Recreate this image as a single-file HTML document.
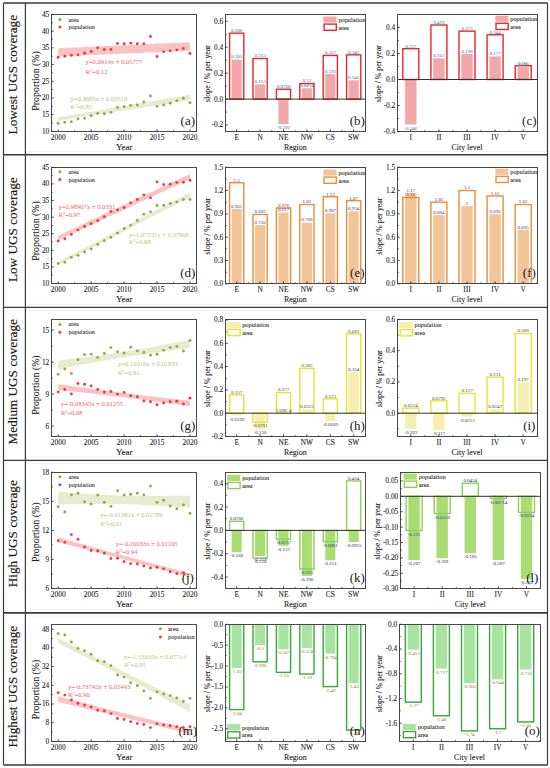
<!DOCTYPE html>
<html><head><meta charset="utf-8"><style>
html,body{margin:0;padding:0;background:#fff;}
body{width:550px;height:768px;overflow:hidden;}
svg{display:block;font-family:'Liberation Serif', serif;}
</style></head><body>
<svg width="550" height="768" viewBox="0 0 550 768">
<rect x="0" y="0" width="550" height="768" fill="#ffffff"/>
<line x1="26" y1="5.5" x2="547" y2="5.5" stroke="#f1f1f1" stroke-width="0.8"/>
<line x1="26" y1="151.5" x2="547" y2="151.5" stroke="#f1f1f1" stroke-width="0.8"/>
<line x1="26" y1="158" x2="547" y2="158" stroke="#f1f1f1" stroke-width="0.8"/>
<line x1="26" y1="304.3" x2="547" y2="304.3" stroke="#f1f1f1" stroke-width="0.8"/>
<line x1="26" y1="310.5" x2="547" y2="310.5" stroke="#f1f1f1" stroke-width="0.8"/>
<line x1="26" y1="457.2" x2="547" y2="457.2" stroke="#f1f1f1" stroke-width="0.8"/>
<line x1="26" y1="463.5" x2="547" y2="463.5" stroke="#f1f1f1" stroke-width="0.8"/>
<line x1="26" y1="609.8" x2="547" y2="609.8" stroke="#f1f1f1" stroke-width="0.8"/>
<line x1="26" y1="616" x2="547" y2="616" stroke="#f1f1f1" stroke-width="0.8"/>
<line x1="26" y1="762" x2="547" y2="762" stroke="#f1f1f1" stroke-width="0.8"/>
<line x1="3.5" y1="3" x2="547.5" y2="3" stroke="#3a3a3a" stroke-width="1.5"/>
<line x1="3.5" y1="765" x2="547.5" y2="765" stroke="#3a3a3a" stroke-width="1.5"/>
<line x1="3.5" y1="3" x2="3.5" y2="765" stroke="#3a3a3a" stroke-width="1.2"/>
<line x1="547.5" y1="3" x2="547.5" y2="765" stroke="#3a3a3a" stroke-width="1.2"/>
<line x1="25.4" y1="3" x2="25.4" y2="765" stroke="#3a3a3a" stroke-width="1.2"/>
<line x1="3.5" y1="154.8" x2="547.5" y2="154.8" stroke="#3a3a3a" stroke-width="1.5"/>
<line x1="3.5" y1="307.4" x2="547.5" y2="307.4" stroke="#3a3a3a" stroke-width="1.3"/>
<line x1="3.5" y1="460.4" x2="547.5" y2="460.4" stroke="#3a3a3a" stroke-width="1.3"/>
<line x1="3.5" y1="612.9" x2="547.5" y2="612.9" stroke="#3a3a3a" stroke-width="1.7"/>
<text x="12.6" y="79.06" font-size="13.2" text-anchor="middle" fill="#1a1a1a" stroke="#1a1a1a" stroke-width="0.17" transform="rotate(-90 12.6 74.7)">Lowest UGS coverage</text>
<text x="12.6" y="234.06" font-size="13.2" text-anchor="middle" fill="#1a1a1a" stroke="#1a1a1a" stroke-width="0.17" transform="rotate(-90 12.6 229.7)">Low UGS coverage</text>
<text x="12.6" y="386.16" font-size="13.2" text-anchor="middle" fill="#1a1a1a" stroke="#1a1a1a" stroke-width="0.17" transform="rotate(-90 12.6 381.8)">Medium UGS coverage</text>
<text x="12.6" y="538.06" font-size="13.2" text-anchor="middle" fill="#1a1a1a" stroke="#1a1a1a" stroke-width="0.17" transform="rotate(-90 12.6 533.7)">High UGS coverage</text>
<text x="12.6" y="691.06" font-size="13.2" text-anchor="middle" fill="#1a1a1a" stroke="#1a1a1a" stroke-width="0.17" transform="rotate(-90 12.6 686.7)">Highest UGS coverage</text>
<path d="M58.2,48.3 L61.5,48.15 L64.79,47.99 L68.09,47.84 L71.38,47.69 L74.68,47.54 L77.97,47.38 L81.27,47.23 L84.56,47.08 L87.86,46.93 L91.15,46.78 L94.44,46.62 L97.74,46.47 L101.03,46.32 L104.33,46.17 L107.62,46.01 L110.92,45.86 L114.22,45.71 L117.51,45.56 L120.81,45.4 L124.1,45.25 L127.39,45.1 L130.69,44.95 L133.99,44.79 L137.28,44.64 L140.57,44.49 L143.87,44.34 L147.17,44.18 L150.46,44.03 L153.75,43.88 L157.05,43.73 L160.34,43.57 L163.64,43.42 L166.94,43.27 L170.23,43.12 L173.53,42.96 L176.82,42.81 L180.12,42.66 L183.41,42.51 L186.7,42.35 L190,42.2 L190,50.7 L186.7,50.84 L183.41,50.99 L180.12,51.14 L176.82,51.28 L173.53,51.43 L170.23,51.57 L166.94,51.72 L163.64,51.86 L160.34,52.01 L157.05,52.15 L153.75,52.3 L150.46,52.44 L147.17,52.59 L143.87,52.73 L140.57,52.88 L137.28,53.02 L133.99,53.16 L130.69,53.31 L127.39,53.45 L124.1,53.6 L120.81,53.75 L117.51,53.89 L114.22,54.04 L110.92,54.18 L107.62,54.33 L104.33,54.47 L101.03,54.62 L97.74,54.76 L94.44,54.91 L91.15,55.05 L87.86,55.2 L84.56,55.34 L81.27,55.48 L77.97,55.63 L74.68,55.77 L71.38,55.92 L68.09,56.06 L64.79,56.21 L61.5,56.35 L58.2,56.5Z" fill="#fabdbd" opacity="0.9"/>
<path d="M58.2,117.4 L61.5,116.83 L64.79,116.26 L68.09,115.69 L71.38,115.12 L74.68,114.55 L77.97,113.98 L81.27,113.41 L84.56,112.84 L87.86,112.27 L91.15,111.7 L94.44,111.13 L97.74,110.56 L101.03,109.99 L104.33,109.42 L107.62,108.85 L110.92,108.28 L114.22,107.71 L117.51,107.14 L120.81,106.57 L124.1,106 L127.39,105.43 L130.69,104.86 L133.99,104.29 L137.28,103.72 L140.57,103.15 L143.87,102.58 L147.17,102.01 L150.46,101.44 L153.75,100.87 L157.05,100.3 L160.34,99.73 L163.64,99.16 L166.94,98.59 L170.23,98.02 L173.53,97.45 L176.82,96.88 L180.12,96.31 L183.41,95.74 L186.7,95.17 L190,94.6 L190,100.2 L186.7,100.72 L183.41,101.23 L180.12,101.75 L176.82,102.26 L173.53,102.78 L170.23,103.29 L166.94,103.81 L163.64,104.32 L160.34,104.83 L157.05,105.35 L153.75,105.87 L150.46,106.38 L147.17,106.89 L143.87,107.41 L140.57,107.92 L137.28,108.44 L133.99,108.95 L130.69,109.47 L127.39,109.98 L124.1,110.5 L120.81,111.02 L117.51,111.53 L114.22,112.05 L110.92,112.56 L107.62,113.08 L104.33,113.59 L101.03,114.11 L97.74,114.62 L94.44,115.13 L91.15,115.65 L87.86,116.17 L84.56,116.68 L81.27,117.19 L77.97,117.71 L74.68,118.22 L71.38,118.74 L68.09,119.25 L64.79,119.77 L61.5,120.28 L58.2,120.8Z" fill="#e2eacb" opacity="0.9"/>
<circle cx="58.2" cy="123.21" r="1.45" fill="#90aa3c"/>
<circle cx="64.79" cy="122.37" r="1.45" fill="#90aa3c"/>
<circle cx="71.38" cy="121.71" r="1.45" fill="#90aa3c"/>
<circle cx="77.97" cy="119.03" r="1.45" fill="#90aa3c"/>
<circle cx="84.56" cy="118.36" r="1.45" fill="#90aa3c"/>
<circle cx="91.15" cy="115.69" r="1.45" fill="#90aa3c"/>
<circle cx="97.74" cy="113.35" r="1.45" fill="#90aa3c"/>
<circle cx="104.33" cy="113.68" r="1.45" fill="#90aa3c"/>
<circle cx="110.92" cy="112.35" r="1.45" fill="#90aa3c"/>
<circle cx="117.51" cy="107.33" r="1.45" fill="#90aa3c"/>
<circle cx="124.1" cy="106.66" r="1.45" fill="#90aa3c"/>
<circle cx="130.69" cy="105.33" r="1.45" fill="#90aa3c"/>
<circle cx="137.28" cy="104.99" r="1.45" fill="#90aa3c"/>
<circle cx="143.87" cy="101.98" r="1.45" fill="#90aa3c"/>
<circle cx="150.46" cy="95.97" r="1.45" fill="#90aa3c"/>
<circle cx="157.05" cy="106.33" r="1.45" fill="#90aa3c"/>
<circle cx="163.64" cy="104.99" r="1.45" fill="#90aa3c"/>
<circle cx="170.23" cy="103.32" r="1.45" fill="#90aa3c"/>
<circle cx="176.82" cy="100.65" r="1.45" fill="#90aa3c"/>
<circle cx="183.41" cy="98.31" r="1.45" fill="#90aa3c"/>
<circle cx="190" cy="102.65" r="1.45" fill="#90aa3c"/>
<circle cx="58.2" cy="57.19" r="1.45" fill="#f2393b"/>
<circle cx="64.79" cy="56.19" r="1.45" fill="#f2393b"/>
<circle cx="71.38" cy="55.18" r="1.45" fill="#f2393b"/>
<circle cx="77.97" cy="54.85" r="1.45" fill="#f2393b"/>
<circle cx="84.56" cy="53.18" r="1.45" fill="#f2393b"/>
<circle cx="91.15" cy="51.51" r="1.45" fill="#f2393b"/>
<circle cx="97.74" cy="47.83" r="1.45" fill="#f2393b"/>
<circle cx="104.33" cy="49.5" r="1.45" fill="#f2393b"/>
<circle cx="110.92" cy="49.5" r="1.45" fill="#f2393b"/>
<circle cx="117.51" cy="43.48" r="1.45" fill="#f2393b"/>
<circle cx="124.1" cy="43.82" r="1.45" fill="#f2393b"/>
<circle cx="130.69" cy="43.15" r="1.45" fill="#f2393b"/>
<circle cx="137.28" cy="43.82" r="1.45" fill="#f2393b"/>
<circle cx="143.87" cy="43.82" r="1.45" fill="#f2393b"/>
<circle cx="150.46" cy="36.46" r="1.45" fill="#f2393b"/>
<circle cx="157.05" cy="56.52" r="1.45" fill="#f2393b"/>
<circle cx="163.64" cy="51.84" r="1.45" fill="#f2393b"/>
<circle cx="170.23" cy="50.84" r="1.45" fill="#f2393b"/>
<circle cx="176.82" cy="49.83" r="1.45" fill="#f2393b"/>
<circle cx="183.41" cy="48.5" r="1.45" fill="#f2393b"/>
<circle cx="190" cy="53.51" r="1.45" fill="#f2393b"/>
<text x="85.6" y="64.38" font-size="6.6" text-anchor="start" fill="#f27d7d" stroke="#f27d7d" stroke-width="0.08">y=0.0914x ± 0.05777</text>
<text x="85.6" y="73.88" font-size="6.6" text-anchor="start" fill="#f27d7d" stroke="#f27d7d" stroke-width="0.08">R<tspan dy="-2" font-size="4.5">2</tspan><tspan dy="2">=0.12</tspan></text>
<text x="70.5" y="101.28" font-size="6.6" text-anchor="start" fill="#c6d08c" stroke="#c6d08c" stroke-width="0.08">y=0.3683x ± 0.03519</text>
<text x="70.5" y="108.98" font-size="6.6" text-anchor="start" fill="#c6d08c" stroke="#c6d08c" stroke-width="0.08">R<tspan dy="-2" font-size="4.5">2</tspan><tspan dy="2">=0.85</tspan></text>
<circle cx="59.9" cy="19.6" r="1.5" fill="#90aa3c"/>
<circle cx="59.9" cy="27" r="1.5" fill="#f2393b"/>
<text x="68.4" y="21.65" font-size="6.2" text-anchor="start" fill="#333" stroke="#333" stroke-width="0.08">area</text>
<text x="68.4" y="29.05" font-size="6.2" text-anchor="start" fill="#333" stroke="#333" stroke-width="0.08">population</text>
<rect x="51.5" y="14.5" width="145" height="117" fill="none" stroke="#484848" stroke-width="1.0"/>
<line x1="51.5" y1="131.4" x2="53.7" y2="131.4" stroke="#333333" stroke-width="0.9"/>
<text x="49.3" y="133.84" font-size="7.4" text-anchor="end" fill="#222" stroke="#222" stroke-width="0.09">10</text>
<line x1="51.5" y1="114.69" x2="53.7" y2="114.69" stroke="#333333" stroke-width="0.9"/>
<text x="49.3" y="117.13" font-size="7.4" text-anchor="end" fill="#222" stroke="#222" stroke-width="0.09">15</text>
<line x1="51.5" y1="97.97" x2="53.7" y2="97.97" stroke="#333333" stroke-width="0.9"/>
<text x="49.3" y="100.41" font-size="7.4" text-anchor="end" fill="#222" stroke="#222" stroke-width="0.09">20</text>
<line x1="51.5" y1="81.26" x2="53.7" y2="81.26" stroke="#333333" stroke-width="0.9"/>
<text x="49.3" y="83.7" font-size="7.4" text-anchor="end" fill="#222" stroke="#222" stroke-width="0.09">25</text>
<line x1="51.5" y1="64.54" x2="53.7" y2="64.54" stroke="#333333" stroke-width="0.9"/>
<text x="49.3" y="66.98" font-size="7.4" text-anchor="end" fill="#222" stroke="#222" stroke-width="0.09">30</text>
<line x1="51.5" y1="47.83" x2="53.7" y2="47.83" stroke="#333333" stroke-width="0.9"/>
<text x="49.3" y="50.27" font-size="7.4" text-anchor="end" fill="#222" stroke="#222" stroke-width="0.09">35</text>
<line x1="51.5" y1="31.11" x2="53.7" y2="31.11" stroke="#333333" stroke-width="0.9"/>
<text x="49.3" y="33.56" font-size="7.4" text-anchor="end" fill="#222" stroke="#222" stroke-width="0.09">40</text>
<line x1="51.5" y1="14.4" x2="53.7" y2="14.4" stroke="#333333" stroke-width="0.9"/>
<text x="49.3" y="16.84" font-size="7.4" text-anchor="end" fill="#222" stroke="#222" stroke-width="0.09">45</text>
<line x1="51.5" y1="123.04" x2="52.8" y2="123.04" stroke="#333333" stroke-width="0.8"/>
<line x1="51.5" y1="106.33" x2="52.8" y2="106.33" stroke="#333333" stroke-width="0.8"/>
<line x1="51.5" y1="89.61" x2="52.8" y2="89.61" stroke="#333333" stroke-width="0.8"/>
<line x1="51.5" y1="72.9" x2="52.8" y2="72.9" stroke="#333333" stroke-width="0.8"/>
<line x1="51.5" y1="56.19" x2="52.8" y2="56.19" stroke="#333333" stroke-width="0.8"/>
<line x1="51.5" y1="39.47" x2="52.8" y2="39.47" stroke="#333333" stroke-width="0.8"/>
<line x1="51.5" y1="22.76" x2="52.8" y2="22.76" stroke="#333333" stroke-width="0.8"/>
<line x1="58.2" y1="131.5" x2="58.2" y2="129.3" stroke="#333333" stroke-width="0.9"/>
<text x="58.2" y="139.74" font-size="7.4" text-anchor="middle" fill="#222" stroke="#222" stroke-width="0.09">2000</text>
<line x1="91.15" y1="131.5" x2="91.15" y2="129.3" stroke="#333333" stroke-width="0.9"/>
<text x="91.15" y="139.74" font-size="7.4" text-anchor="middle" fill="#222" stroke="#222" stroke-width="0.09">2005</text>
<line x1="124.1" y1="131.5" x2="124.1" y2="129.3" stroke="#333333" stroke-width="0.9"/>
<text x="124.1" y="139.74" font-size="7.4" text-anchor="middle" fill="#222" stroke="#222" stroke-width="0.09">2010</text>
<line x1="157.05" y1="131.5" x2="157.05" y2="129.3" stroke="#333333" stroke-width="0.9"/>
<text x="157.05" y="139.74" font-size="7.4" text-anchor="middle" fill="#222" stroke="#222" stroke-width="0.09">2015</text>
<line x1="190" y1="131.5" x2="190" y2="129.3" stroke="#333333" stroke-width="0.9"/>
<text x="190" y="139.74" font-size="7.4" text-anchor="middle" fill="#222" stroke="#222" stroke-width="0.09">2020</text>
<line x1="74.68" y1="131.5" x2="74.68" y2="130.2" stroke="#333333" stroke-width="0.8"/>
<line x1="107.62" y1="131.5" x2="107.62" y2="130.2" stroke="#333333" stroke-width="0.8"/>
<line x1="140.57" y1="131.5" x2="140.57" y2="130.2" stroke="#333333" stroke-width="0.8"/>
<line x1="173.53" y1="131.5" x2="173.53" y2="130.2" stroke="#333333" stroke-width="0.8"/>
<text x="124.3" y="149.82" font-size="9" text-anchor="middle" fill="#222" stroke="#222" stroke-width="0.11">Year</text>
<text x="35.4" y="84.17" font-size="9.9" text-anchor="middle" fill="#222" stroke="#222" stroke-width="0.12" transform="rotate(-90 35.4 80.9)">Proportion (%)</text>
<text x="187.8" y="125.35" font-size="13.0" text-anchor="middle" fill="#1a1a1a">(a)</text>
<path d="M58.2,235.7 L61.5,234.16 L64.79,232.61 L68.09,231.06 L71.38,229.52 L74.68,227.97 L77.97,226.43 L81.27,224.89 L84.56,223.34 L87.86,221.79 L91.15,220.25 L94.44,218.71 L97.74,217.16 L101.03,215.61 L104.33,214.07 L107.62,212.53 L110.92,210.98 L114.22,209.44 L117.51,207.89 L120.81,206.34 L124.1,204.8 L127.39,203.25 L130.69,201.71 L133.99,200.16 L137.28,198.62 L140.57,197.07 L143.87,195.53 L147.17,193.99 L150.46,192.44 L153.75,190.89 L157.05,189.35 L160.34,187.81 L163.64,186.26 L166.94,184.71 L170.23,183.17 L173.53,181.62 L176.82,180.08 L180.12,178.54 L183.41,176.99 L186.7,175.44 L190,173.9 L190,179.1 L186.7,180.63 L183.41,182.16 L180.12,183.69 L176.82,185.22 L173.53,186.75 L170.23,188.28 L166.94,189.81 L163.64,191.34 L160.34,192.87 L157.05,194.4 L153.75,195.93 L150.46,197.46 L147.17,198.99 L143.87,200.52 L140.57,202.05 L137.28,203.58 L133.99,205.11 L130.69,206.64 L127.39,208.17 L124.1,209.7 L120.81,211.23 L117.51,212.76 L114.22,214.29 L110.92,215.82 L107.62,217.35 L104.33,218.88 L101.03,220.41 L97.74,221.94 L94.44,223.47 L91.15,225 L87.86,226.53 L84.56,228.06 L81.27,229.59 L77.97,231.12 L74.68,232.65 L71.38,234.18 L68.09,235.71 L64.79,237.24 L61.5,238.77 L58.2,240.3Z" fill="#fabdbd" opacity="0.9"/>
<path d="M58.2,261.8 L61.5,260.07 L64.79,258.33 L68.09,256.6 L71.38,254.87 L74.68,253.14 L77.97,251.4 L81.27,249.67 L84.56,247.94 L87.86,246.21 L91.15,244.47 L94.44,242.74 L97.74,241.01 L101.03,239.28 L104.33,237.54 L107.62,235.81 L110.92,234.08 L114.22,232.35 L117.51,230.61 L120.81,228.88 L124.1,227.15 L127.39,225.42 L130.69,223.69 L133.99,221.95 L137.28,220.22 L140.57,218.49 L143.87,216.75 L147.17,215.02 L150.46,213.29 L153.75,211.56 L157.05,209.83 L160.34,208.09 L163.64,206.36 L166.94,204.63 L170.23,202.9 L173.53,201.16 L176.82,199.43 L180.12,197.7 L183.41,195.96 L186.7,194.23 L190,192.5 L190,197.3 L186.7,198.99 L183.41,200.69 L180.12,202.38 L176.82,204.07 L173.53,205.76 L170.23,207.46 L166.94,209.15 L163.64,210.84 L160.34,212.53 L157.05,214.22 L153.75,215.92 L150.46,217.61 L147.17,219.3 L143.87,221 L140.57,222.69 L137.28,224.38 L133.99,226.07 L130.69,227.76 L127.39,229.46 L124.1,231.15 L120.81,232.84 L117.51,234.53 L114.22,236.23 L110.92,237.92 L107.62,239.61 L104.33,241.3 L101.03,243 L97.74,244.69 L94.44,246.38 L91.15,248.07 L87.86,249.77 L84.56,251.46 L81.27,253.15 L77.97,254.84 L74.68,256.54 L71.38,258.23 L68.09,259.92 L64.79,261.61 L61.5,263.31 L58.2,265Z" fill="#e2eacb" opacity="0.9"/>
<circle cx="58.2" cy="263.5" r="1.45" fill="#90aa3c"/>
<circle cx="64.79" cy="262.33" r="1.45" fill="#90aa3c"/>
<circle cx="71.38" cy="257.35" r="1.45" fill="#90aa3c"/>
<circle cx="77.97" cy="255.36" r="1.45" fill="#90aa3c"/>
<circle cx="84.56" cy="252.03" r="1.45" fill="#90aa3c"/>
<circle cx="91.15" cy="249.04" r="1.45" fill="#90aa3c"/>
<circle cx="97.74" cy="244.39" r="1.45" fill="#90aa3c"/>
<circle cx="104.33" cy="240.74" r="1.45" fill="#90aa3c"/>
<circle cx="110.92" cy="237.41" r="1.45" fill="#90aa3c"/>
<circle cx="117.51" cy="233.09" r="1.45" fill="#90aa3c"/>
<circle cx="124.1" cy="228.44" r="1.45" fill="#90aa3c"/>
<circle cx="130.69" cy="225.12" r="1.45" fill="#90aa3c"/>
<circle cx="137.28" cy="220.47" r="1.45" fill="#90aa3c"/>
<circle cx="143.87" cy="214.15" r="1.45" fill="#90aa3c"/>
<circle cx="150.46" cy="211.83" r="1.45" fill="#90aa3c"/>
<circle cx="157.05" cy="205.51" r="1.45" fill="#90aa3c"/>
<circle cx="163.64" cy="205.18" r="1.45" fill="#90aa3c"/>
<circle cx="170.23" cy="203.52" r="1.45" fill="#90aa3c"/>
<circle cx="176.82" cy="201.86" r="1.45" fill="#90aa3c"/>
<circle cx="183.41" cy="199.53" r="1.45" fill="#90aa3c"/>
<circle cx="190" cy="199.53" r="1.45" fill="#90aa3c"/>
<circle cx="58.2" cy="241.07" r="1.45" fill="#f2393b"/>
<circle cx="64.79" cy="238.74" r="1.45" fill="#f2393b"/>
<circle cx="71.38" cy="234.42" r="1.45" fill="#f2393b"/>
<circle cx="77.97" cy="230.1" r="1.45" fill="#f2393b"/>
<circle cx="84.56" cy="226.45" r="1.45" fill="#f2393b"/>
<circle cx="91.15" cy="223.79" r="1.45" fill="#f2393b"/>
<circle cx="97.74" cy="220.8" r="1.45" fill="#f2393b"/>
<circle cx="104.33" cy="216.81" r="1.45" fill="#f2393b"/>
<circle cx="110.92" cy="211.49" r="1.45" fill="#f2393b"/>
<circle cx="117.51" cy="209.83" r="1.45" fill="#f2393b"/>
<circle cx="124.1" cy="207.51" r="1.45" fill="#f2393b"/>
<circle cx="130.69" cy="202.85" r="1.45" fill="#f2393b"/>
<circle cx="137.28" cy="199.53" r="1.45" fill="#f2393b"/>
<circle cx="143.87" cy="194.88" r="1.45" fill="#f2393b"/>
<circle cx="150.46" cy="197.87" r="1.45" fill="#f2393b"/>
<circle cx="157.05" cy="181.92" r="1.45" fill="#f2393b"/>
<circle cx="163.64" cy="184.58" r="1.45" fill="#f2393b"/>
<circle cx="170.23" cy="184.25" r="1.45" fill="#f2393b"/>
<circle cx="176.82" cy="182.59" r="1.45" fill="#f2393b"/>
<circle cx="183.41" cy="182.25" r="1.45" fill="#f2393b"/>
<circle cx="190" cy="180.26" r="1.45" fill="#f2393b"/>
<text x="58.5" y="208.78" font-size="6.6" text-anchor="start" fill="#f27d7d" stroke="#f27d7d" stroke-width="0.08">y=0.96907x ± 0.0331</text>
<text x="58.5" y="216.88" font-size="6.6" text-anchor="start" fill="#f27d7d" stroke="#f27d7d" stroke-width="0.08">R<tspan dy="-2" font-size="4.5">2</tspan><tspan dy="2">=0.97</tspan></text>
<text x="128.8" y="236.68" font-size="6.6" text-anchor="start" fill="#c6d08c" stroke="#c6d08c" stroke-width="0.08">y=1.07231x ± 0.07908</text>
<text x="128.8" y="244.38" font-size="6.6" text-anchor="start" fill="#c6d08c" stroke="#c6d08c" stroke-width="0.08">R<tspan dy="-2" font-size="4.5">2</tspan><tspan dy="2">=0.98</tspan></text>
<circle cx="59.9" cy="171.7" r="1.5" fill="#90aa3c"/>
<circle cx="59.9" cy="179.5" r="1.5" fill="#f2393b"/>
<text x="68.4" y="173.75" font-size="6.2" text-anchor="start" fill="#333" stroke="#333" stroke-width="0.08">area</text>
<text x="68.4" y="181.55" font-size="6.2" text-anchor="start" fill="#333" stroke="#333" stroke-width="0.08">population</text>
<rect x="51.5" y="167.5" width="145" height="116" fill="none" stroke="#484848" stroke-width="1.0"/>
<line x1="51.5" y1="283.6" x2="53.7" y2="283.6" stroke="#333333" stroke-width="0.9"/>
<text x="49.3" y="286.04" font-size="7.4" text-anchor="end" fill="#222" stroke="#222" stroke-width="0.09">10</text>
<line x1="51.5" y1="266.99" x2="53.7" y2="266.99" stroke="#333333" stroke-width="0.9"/>
<text x="49.3" y="269.43" font-size="7.4" text-anchor="end" fill="#222" stroke="#222" stroke-width="0.09">15</text>
<line x1="51.5" y1="250.37" x2="53.7" y2="250.37" stroke="#333333" stroke-width="0.9"/>
<text x="49.3" y="252.81" font-size="7.4" text-anchor="end" fill="#222" stroke="#222" stroke-width="0.09">20</text>
<line x1="51.5" y1="233.76" x2="53.7" y2="233.76" stroke="#333333" stroke-width="0.9"/>
<text x="49.3" y="236.2" font-size="7.4" text-anchor="end" fill="#222" stroke="#222" stroke-width="0.09">25</text>
<line x1="51.5" y1="217.14" x2="53.7" y2="217.14" stroke="#333333" stroke-width="0.9"/>
<text x="49.3" y="219.58" font-size="7.4" text-anchor="end" fill="#222" stroke="#222" stroke-width="0.09">30</text>
<line x1="51.5" y1="200.53" x2="53.7" y2="200.53" stroke="#333333" stroke-width="0.9"/>
<text x="49.3" y="202.97" font-size="7.4" text-anchor="end" fill="#222" stroke="#222" stroke-width="0.09">35</text>
<line x1="51.5" y1="183.91" x2="53.7" y2="183.91" stroke="#333333" stroke-width="0.9"/>
<text x="49.3" y="186.36" font-size="7.4" text-anchor="end" fill="#222" stroke="#222" stroke-width="0.09">40</text>
<line x1="51.5" y1="167.3" x2="53.7" y2="167.3" stroke="#333333" stroke-width="0.9"/>
<text x="49.3" y="169.74" font-size="7.4" text-anchor="end" fill="#222" stroke="#222" stroke-width="0.09">45</text>
<line x1="51.5" y1="275.29" x2="52.8" y2="275.29" stroke="#333333" stroke-width="0.8"/>
<line x1="51.5" y1="258.68" x2="52.8" y2="258.68" stroke="#333333" stroke-width="0.8"/>
<line x1="51.5" y1="242.06" x2="52.8" y2="242.06" stroke="#333333" stroke-width="0.8"/>
<line x1="51.5" y1="225.45" x2="52.8" y2="225.45" stroke="#333333" stroke-width="0.8"/>
<line x1="51.5" y1="208.84" x2="52.8" y2="208.84" stroke="#333333" stroke-width="0.8"/>
<line x1="51.5" y1="192.22" x2="52.8" y2="192.22" stroke="#333333" stroke-width="0.8"/>
<line x1="51.5" y1="175.61" x2="52.8" y2="175.61" stroke="#333333" stroke-width="0.8"/>
<line x1="58.2" y1="283.5" x2="58.2" y2="281.3" stroke="#333333" stroke-width="0.9"/>
<text x="58.2" y="291.74" font-size="7.4" text-anchor="middle" fill="#222" stroke="#222" stroke-width="0.09">2000</text>
<line x1="91.15" y1="283.5" x2="91.15" y2="281.3" stroke="#333333" stroke-width="0.9"/>
<text x="91.15" y="291.74" font-size="7.4" text-anchor="middle" fill="#222" stroke="#222" stroke-width="0.09">2005</text>
<line x1="124.1" y1="283.5" x2="124.1" y2="281.3" stroke="#333333" stroke-width="0.9"/>
<text x="124.1" y="291.74" font-size="7.4" text-anchor="middle" fill="#222" stroke="#222" stroke-width="0.09">2010</text>
<line x1="157.05" y1="283.5" x2="157.05" y2="281.3" stroke="#333333" stroke-width="0.9"/>
<text x="157.05" y="291.74" font-size="7.4" text-anchor="middle" fill="#222" stroke="#222" stroke-width="0.09">2015</text>
<line x1="190" y1="283.5" x2="190" y2="281.3" stroke="#333333" stroke-width="0.9"/>
<text x="190" y="291.74" font-size="7.4" text-anchor="middle" fill="#222" stroke="#222" stroke-width="0.09">2020</text>
<line x1="74.68" y1="283.5" x2="74.68" y2="282.2" stroke="#333333" stroke-width="0.8"/>
<line x1="107.62" y1="283.5" x2="107.62" y2="282.2" stroke="#333333" stroke-width="0.8"/>
<line x1="140.57" y1="283.5" x2="140.57" y2="282.2" stroke="#333333" stroke-width="0.8"/>
<line x1="173.53" y1="283.5" x2="173.53" y2="282.2" stroke="#333333" stroke-width="0.8"/>
<text x="124.3" y="301.82" font-size="9" text-anchor="middle" fill="#222" stroke="#222" stroke-width="0.11">Year</text>
<text x="35.4" y="234.17" font-size="9.9" text-anchor="middle" fill="#222" stroke="#222" stroke-width="0.12" transform="rotate(-90 35.4 230.9)">Proportion (%)</text>
<text x="187.8" y="277.35" font-size="13.0" text-anchor="middle" fill="#1a1a1a">(d)</text>
<path d="M58.2,384.2 L61.5,384.66 L64.79,385.12 L68.09,385.58 L71.38,386.04 L74.68,386.5 L77.97,386.95 L81.27,387.41 L84.56,387.87 L87.86,388.32 L91.15,388.78 L94.44,389.23 L97.74,389.68 L101.03,390.13 L104.33,390.58 L107.62,391.02 L110.92,391.47 L114.22,391.9 L117.51,392.33 L120.81,392.76 L124.1,393.18 L127.39,393.59 L130.69,393.99 L133.99,394.39 L137.28,394.79 L140.57,395.18 L143.87,395.57 L147.17,395.95 L150.46,396.33 L153.75,396.71 L157.05,397.09 L160.34,397.47 L163.64,397.85 L166.94,398.22 L170.23,398.6 L173.53,398.98 L176.82,399.35 L180.12,399.73 L183.41,400.1 L186.7,400.48 L190,400.85 L190,406.15 L186.7,405.7 L183.41,405.25 L180.12,404.8 L176.82,404.35 L173.53,403.9 L170.23,403.45 L166.94,403 L163.64,402.55 L160.34,402.11 L157.05,401.66 L153.75,401.21 L150.46,400.77 L147.17,400.32 L143.87,399.88 L140.57,399.45 L137.28,399.01 L133.99,398.58 L130.69,398.16 L127.39,397.74 L124.1,397.32 L120.81,396.92 L117.51,396.52 L114.22,396.12 L110.92,395.73 L107.62,395.35 L104.33,394.97 L101.03,394.59 L97.74,394.22 L94.44,393.84 L91.15,393.47 L87.86,393.1 L84.56,392.73 L81.27,392.36 L77.97,392 L74.68,391.63 L71.38,391.26 L68.09,390.9 L64.79,390.53 L61.5,390.16 L58.2,389.8Z" fill="#fabdbd" opacity="0.9"/>
<path d="M58.2,360.65 L61.5,360.24 L64.79,359.83 L68.09,359.41 L71.38,359 L74.68,358.58 L77.97,358.16 L81.27,357.75 L84.56,357.33 L87.86,356.9 L91.15,356.48 L94.44,356.05 L97.74,355.61 L101.03,355.18 L104.33,354.73 L107.62,354.28 L110.92,353.83 L114.22,353.36 L117.51,352.87 L120.81,352.38 L124.1,351.86 L127.39,351.33 L130.69,350.79 L133.99,350.23 L137.28,349.66 L140.57,349.08 L143.87,348.49 L147.17,347.89 L150.46,347.29 L153.75,346.68 L157.05,346.07 L160.34,345.46 L163.64,344.85 L166.94,344.23 L170.23,343.61 L173.53,343 L176.82,342.38 L180.12,341.76 L183.41,341.14 L186.7,340.52 L190,339.9 L190,348.1 L186.7,348.53 L183.41,348.96 L180.12,349.39 L176.82,349.82 L173.53,350.25 L170.23,350.69 L166.94,351.12 L163.64,351.55 L160.34,351.99 L157.05,352.43 L153.75,352.87 L150.46,353.31 L147.17,353.76 L143.87,354.21 L140.57,354.67 L137.28,355.14 L133.99,355.62 L130.69,356.11 L127.39,356.62 L124.1,357.14 L120.81,357.67 L117.51,358.23 L114.22,358.79 L110.92,359.37 L107.62,359.97 L104.33,360.57 L101.03,361.17 L97.74,361.79 L94.44,362.4 L91.15,363.02 L87.86,363.65 L84.56,364.27 L81.27,364.9 L77.97,365.54 L74.68,366.17 L71.38,366.8 L68.09,367.44 L64.79,368.07 L61.5,368.71 L58.2,369.35Z" fill="#e2eacb" opacity="0.9"/>
<circle cx="58.2" cy="374.37" r="1.45" fill="#90aa3c"/>
<circle cx="64.79" cy="368.93" r="1.45" fill="#90aa3c"/>
<circle cx="71.38" cy="373.51" r="1.45" fill="#90aa3c"/>
<circle cx="77.97" cy="359.65" r="1.45" fill="#90aa3c"/>
<circle cx="84.56" cy="354.63" r="1.45" fill="#90aa3c"/>
<circle cx="91.15" cy="354.31" r="1.45" fill="#90aa3c"/>
<circle cx="97.74" cy="357.62" r="1.45" fill="#90aa3c"/>
<circle cx="104.33" cy="353.57" r="1.45" fill="#90aa3c"/>
<circle cx="110.92" cy="347.59" r="1.45" fill="#90aa3c"/>
<circle cx="117.51" cy="351.86" r="1.45" fill="#90aa3c"/>
<circle cx="124.1" cy="353.03" r="1.45" fill="#90aa3c"/>
<circle cx="130.69" cy="347.27" r="1.45" fill="#90aa3c"/>
<circle cx="137.28" cy="350.9" r="1.45" fill="#90aa3c"/>
<circle cx="143.87" cy="352.5" r="1.45" fill="#90aa3c"/>
<circle cx="150.46" cy="355.17" r="1.45" fill="#90aa3c"/>
<circle cx="157.05" cy="354.21" r="1.45" fill="#90aa3c"/>
<circle cx="163.64" cy="350.15" r="1.45" fill="#90aa3c"/>
<circle cx="170.23" cy="347.59" r="1.45" fill="#90aa3c"/>
<circle cx="176.82" cy="346.53" r="1.45" fill="#90aa3c"/>
<circle cx="183.41" cy="351.01" r="1.45" fill="#90aa3c"/>
<circle cx="190" cy="340.45" r="1.45" fill="#90aa3c"/>
<circle cx="58.2" cy="391.97" r="1.45" fill="#f2393b"/>
<circle cx="64.79" cy="389.51" r="1.45" fill="#f2393b"/>
<circle cx="71.38" cy="393.89" r="1.45" fill="#f2393b"/>
<circle cx="77.97" cy="383.43" r="1.45" fill="#f2393b"/>
<circle cx="84.56" cy="384.18" r="1.45" fill="#f2393b"/>
<circle cx="91.15" cy="385.89" r="1.45" fill="#f2393b"/>
<circle cx="97.74" cy="389.51" r="1.45" fill="#f2393b"/>
<circle cx="104.33" cy="391.97" r="1.45" fill="#f2393b"/>
<circle cx="110.92" cy="391.43" r="1.45" fill="#f2393b"/>
<circle cx="117.51" cy="394.1" r="1.45" fill="#f2393b"/>
<circle cx="124.1" cy="392.39" r="1.45" fill="#f2393b"/>
<circle cx="130.69" cy="395.7" r="1.45" fill="#f2393b"/>
<circle cx="137.28" cy="396.77" r="1.45" fill="#f2393b"/>
<circle cx="143.87" cy="400.93" r="1.45" fill="#f2393b"/>
<circle cx="150.46" cy="401.78" r="1.45" fill="#f2393b"/>
<circle cx="157.05" cy="404.77" r="1.45" fill="#f2393b"/>
<circle cx="163.64" cy="402.95" r="1.45" fill="#f2393b"/>
<circle cx="170.23" cy="401.78" r="1.45" fill="#f2393b"/>
<circle cx="176.82" cy="401.25" r="1.45" fill="#f2393b"/>
<circle cx="183.41" cy="403.91" r="1.45" fill="#f2393b"/>
<circle cx="190" cy="398.15" r="1.45" fill="#f2393b"/>
<text x="60.7" y="405.58" font-size="6.6" text-anchor="start" fill="#f27d7d" stroke="#f27d7d" stroke-width="0.08">y=-0.08345x ± 0.01255</text>
<text x="60.7" y="414.58" font-size="6.6" text-anchor="start" fill="#f27d7d" stroke="#f27d7d" stroke-width="0.08">R<tspan dy="-2" font-size="4.5">2</tspan><tspan dy="2">=0.68</tspan></text>
<text x="117.9" y="365.78" font-size="6.6" text-anchor="start" fill="#c6d08c" stroke="#c6d08c" stroke-width="0.08">y=0.10316x ± 0.01831</text>
<text x="117.9" y="375.28" font-size="6.6" text-anchor="start" fill="#c6d08c" stroke="#c6d08c" stroke-width="0.08">R<tspan dy="-2" font-size="4.5">2</tspan><tspan dy="2">=0.61</tspan></text>
<circle cx="59.9" cy="324.4" r="1.5" fill="#90aa3c"/>
<circle cx="59.9" cy="332.2" r="1.5" fill="#f2393b"/>
<text x="68.4" y="326.45" font-size="6.2" text-anchor="start" fill="#333" stroke="#333" stroke-width="0.08">area</text>
<text x="68.4" y="334.25" font-size="6.2" text-anchor="start" fill="#333" stroke="#333" stroke-width="0.08">population</text>
<rect x="51.5" y="319.5" width="145" height="117" fill="none" stroke="#484848" stroke-width="1.0"/>
<line x1="51.5" y1="426.1" x2="53.7" y2="426.1" stroke="#333333" stroke-width="0.9"/>
<text x="49.3" y="428.54" font-size="7.4" text-anchor="end" fill="#222" stroke="#222" stroke-width="0.09">6</text>
<line x1="51.5" y1="394.1" x2="53.7" y2="394.1" stroke="#333333" stroke-width="0.9"/>
<text x="49.3" y="396.54" font-size="7.4" text-anchor="end" fill="#222" stroke="#222" stroke-width="0.09">9</text>
<line x1="51.5" y1="362.1" x2="53.7" y2="362.1" stroke="#333333" stroke-width="0.9"/>
<text x="49.3" y="364.54" font-size="7.4" text-anchor="end" fill="#222" stroke="#222" stroke-width="0.09">12</text>
<line x1="51.5" y1="330.1" x2="53.7" y2="330.1" stroke="#333333" stroke-width="0.9"/>
<text x="49.3" y="332.54" font-size="7.4" text-anchor="end" fill="#222" stroke="#222" stroke-width="0.09">15</text>
<line x1="51.5" y1="410.1" x2="52.8" y2="410.1" stroke="#333333" stroke-width="0.8"/>
<line x1="51.5" y1="378.1" x2="52.8" y2="378.1" stroke="#333333" stroke-width="0.8"/>
<line x1="51.5" y1="346.1" x2="52.8" y2="346.1" stroke="#333333" stroke-width="0.8"/>
<line x1="58.2" y1="436.5" x2="58.2" y2="434.3" stroke="#333333" stroke-width="0.9"/>
<text x="58.2" y="444.74" font-size="7.4" text-anchor="middle" fill="#222" stroke="#222" stroke-width="0.09">2000</text>
<line x1="91.15" y1="436.5" x2="91.15" y2="434.3" stroke="#333333" stroke-width="0.9"/>
<text x="91.15" y="444.74" font-size="7.4" text-anchor="middle" fill="#222" stroke="#222" stroke-width="0.09">2005</text>
<line x1="124.1" y1="436.5" x2="124.1" y2="434.3" stroke="#333333" stroke-width="0.9"/>
<text x="124.1" y="444.74" font-size="7.4" text-anchor="middle" fill="#222" stroke="#222" stroke-width="0.09">2010</text>
<line x1="157.05" y1="436.5" x2="157.05" y2="434.3" stroke="#333333" stroke-width="0.9"/>
<text x="157.05" y="444.74" font-size="7.4" text-anchor="middle" fill="#222" stroke="#222" stroke-width="0.09">2015</text>
<line x1="190" y1="436.5" x2="190" y2="434.3" stroke="#333333" stroke-width="0.9"/>
<text x="190" y="444.74" font-size="7.4" text-anchor="middle" fill="#222" stroke="#222" stroke-width="0.09">2020</text>
<line x1="74.68" y1="436.5" x2="74.68" y2="435.2" stroke="#333333" stroke-width="0.8"/>
<line x1="107.62" y1="436.5" x2="107.62" y2="435.2" stroke="#333333" stroke-width="0.8"/>
<line x1="140.57" y1="436.5" x2="140.57" y2="435.2" stroke="#333333" stroke-width="0.8"/>
<line x1="173.53" y1="436.5" x2="173.53" y2="435.2" stroke="#333333" stroke-width="0.8"/>
<text x="124.3" y="454.82" font-size="9" text-anchor="middle" fill="#222" stroke="#222" stroke-width="0.11">Year</text>
<text x="35.4" y="388.37" font-size="9.9" text-anchor="middle" fill="#222" stroke="#222" stroke-width="0.12" transform="rotate(-90 35.4 385.1)">Proportion (%)</text>
<text x="187.8" y="430.35" font-size="13.0" text-anchor="middle" fill="#1a1a1a">(g)</text>
<path d="M58.2,537.35 L61.5,538.28 L64.79,539.22 L68.09,540.15 L71.38,541.08 L74.68,542.01 L77.97,542.94 L81.27,543.87 L84.56,544.8 L87.86,545.73 L91.15,546.65 L94.44,547.58 L97.74,548.5 L101.03,549.43 L104.33,550.35 L107.62,551.27 L110.92,552.18 L114.22,553.1 L117.51,554.01 L120.81,554.91 L124.1,555.81 L127.39,556.71 L130.69,557.6 L133.99,558.49 L137.28,559.37 L140.57,560.25 L143.87,561.13 L147.17,562 L150.46,562.88 L153.75,563.75 L157.05,564.63 L160.34,565.5 L163.64,566.37 L166.94,567.25 L170.23,568.12 L173.53,568.99 L176.82,569.86 L180.12,570.73 L183.41,571.61 L186.7,572.48 L190,573.35 L190,577.45 L186.7,576.54 L183.41,575.63 L180.12,574.73 L176.82,573.82 L173.53,572.91 L170.23,572 L166.94,571.09 L163.64,570.19 L160.34,569.28 L157.05,568.37 L153.75,567.47 L150.46,566.56 L147.17,565.66 L143.87,564.75 L140.57,563.85 L137.28,562.95 L133.99,562.05 L130.69,561.16 L127.39,560.27 L124.1,559.39 L120.81,558.51 L117.51,557.63 L114.22,556.76 L110.92,555.9 L107.62,555.03 L104.33,554.17 L101.03,553.31 L97.74,552.46 L94.44,551.6 L91.15,550.75 L87.86,549.89 L84.56,549.04 L81.27,548.19 L77.97,547.34 L74.68,546.49 L71.38,545.64 L68.09,544.79 L64.79,543.94 L61.5,543.1 L58.2,542.25Z" fill="#fabdbd" opacity="0.9"/>
<path d="M58.2,491.9 L61.5,492.12 L64.79,492.34 L68.09,492.56 L71.38,492.78 L74.68,493 L77.97,493.21 L81.27,493.43 L84.56,493.64 L87.86,493.84 L91.15,494.05 L94.44,494.25 L97.74,494.45 L101.03,494.64 L104.33,494.82 L107.62,495 L110.92,495.16 L114.22,495.32 L117.51,495.45 L120.81,495.58 L124.1,495.68 L127.39,495.76 L130.69,495.82 L133.99,495.87 L137.28,495.9 L140.57,495.92 L143.87,495.93 L147.17,495.93 L150.46,495.93 L153.75,495.92 L157.05,495.91 L160.34,495.9 L163.64,495.88 L166.94,495.86 L170.23,495.84 L173.53,495.82 L176.82,495.8 L180.12,495.77 L183.41,495.75 L186.7,495.72 L190,495.7 L190,507.5 L186.7,507.31 L183.41,507.11 L180.12,506.92 L176.82,506.72 L173.53,506.53 L170.23,506.34 L166.94,506.15 L163.64,505.96 L160.34,505.77 L157.05,505.59 L153.75,505.41 L150.46,505.23 L147.17,505.06 L143.87,504.89 L140.57,504.73 L137.28,504.58 L133.99,504.44 L130.69,504.32 L127.39,504.21 L124.1,504.12 L120.81,504.05 L117.51,504.01 L114.22,503.97 L110.92,503.96 L107.62,503.95 L104.33,503.96 L101.03,503.97 L97.74,503.99 L94.44,504.02 L91.15,504.05 L87.86,504.09 L84.56,504.12 L81.27,504.16 L77.97,504.21 L74.68,504.25 L71.38,504.3 L68.09,504.35 L64.79,504.4 L61.5,504.45 L58.2,504.5Z" fill="#e2eacb" opacity="0.9"/>
<circle cx="58.2" cy="506.8" r="1.45" fill="#90aa3c"/>
<circle cx="64.79" cy="512.04" r="1.45" fill="#90aa3c"/>
<circle cx="71.38" cy="494.88" r="1.45" fill="#90aa3c"/>
<circle cx="77.97" cy="493.23" r="1.45" fill="#90aa3c"/>
<circle cx="84.56" cy="501.86" r="1.45" fill="#90aa3c"/>
<circle cx="91.15" cy="504.09" r="1.45" fill="#90aa3c"/>
<circle cx="97.74" cy="495.08" r="1.45" fill="#90aa3c"/>
<circle cx="104.33" cy="502.34" r="1.45" fill="#90aa3c"/>
<circle cx="110.92" cy="506.41" r="1.45" fill="#90aa3c"/>
<circle cx="117.51" cy="490.71" r="1.45" fill="#90aa3c"/>
<circle cx="124.1" cy="494.88" r="1.45" fill="#90aa3c"/>
<circle cx="130.69" cy="494.2" r="1.45" fill="#90aa3c"/>
<circle cx="137.28" cy="493.23" r="1.45" fill="#90aa3c"/>
<circle cx="143.87" cy="494.88" r="1.45" fill="#90aa3c"/>
<circle cx="150.46" cy="486.06" r="1.45" fill="#90aa3c"/>
<circle cx="157.05" cy="502.34" r="1.45" fill="#90aa3c"/>
<circle cx="163.64" cy="500.31" r="1.45" fill="#90aa3c"/>
<circle cx="170.23" cy="505.93" r="1.45" fill="#90aa3c"/>
<circle cx="176.82" cy="508.74" r="1.45" fill="#90aa3c"/>
<circle cx="183.41" cy="504.86" r="1.45" fill="#90aa3c"/>
<circle cx="190" cy="513.39" r="1.45" fill="#90aa3c"/>
<circle cx="58.2" cy="540.63" r="1.45" fill="#f2393b"/>
<circle cx="64.79" cy="542.37" r="1.45" fill="#f2393b"/>
<circle cx="71.38" cy="534.62" r="1.45" fill="#f2393b"/>
<circle cx="77.97" cy="539.37" r="1.45" fill="#f2393b"/>
<circle cx="84.56" cy="546.93" r="1.45" fill="#f2393b"/>
<circle cx="91.15" cy="550.51" r="1.45" fill="#f2393b"/>
<circle cx="97.74" cy="551" r="1.45" fill="#f2393b"/>
<circle cx="104.33" cy="553.23" r="1.45" fill="#f2393b"/>
<circle cx="110.92" cy="558.56" r="1.45" fill="#f2393b"/>
<circle cx="117.51" cy="558.27" r="1.45" fill="#f2393b"/>
<circle cx="124.1" cy="561.66" r="1.45" fill="#f2393b"/>
<circle cx="130.69" cy="563.6" r="1.45" fill="#f2393b"/>
<circle cx="137.28" cy="563.89" r="1.45" fill="#f2393b"/>
<circle cx="143.87" cy="566.02" r="1.45" fill="#f2393b"/>
<circle cx="150.46" cy="568.05" r="1.45" fill="#f2393b"/>
<circle cx="157.05" cy="567.28" r="1.45" fill="#f2393b"/>
<circle cx="163.64" cy="568.83" r="1.45" fill="#f2393b"/>
<circle cx="170.23" cy="571.74" r="1.45" fill="#f2393b"/>
<circle cx="176.82" cy="573.67" r="1.45" fill="#f2393b"/>
<circle cx="183.41" cy="572.9" r="1.45" fill="#f2393b"/>
<text x="115.7" y="545.68" font-size="6.6" text-anchor="start" fill="#f27d7d" stroke="#f27d7d" stroke-width="0.08">y=-0.20033x ± 0.01105</text>
<text x="115.7" y="554.28" font-size="6.6" text-anchor="start" fill="#f27d7d" stroke="#f27d7d" stroke-width="0.08">R<tspan dy="-2" font-size="4.5">2</tspan><tspan dy="2">=0.94</tspan></text>
<text x="100.3" y="516.98" font-size="6.6" text-anchor="start" fill="#c6d08c" stroke="#c6d08c" stroke-width="0.08">y=-0.01361x ± 0.02789</text>
<text x="100.3" y="525.98" font-size="6.6" text-anchor="start" fill="#c6d08c" stroke="#c6d08c" stroke-width="0.08">R<tspan dy="-2" font-size="4.5">2</tspan><tspan dy="2">=0.01</tspan></text>
<circle cx="59.9" cy="476.8" r="1.5" fill="#90aa3c"/>
<circle cx="59.9" cy="484.7" r="1.5" fill="#f2393b"/>
<text x="68.4" y="478.85" font-size="6.2" text-anchor="start" fill="#333" stroke="#333" stroke-width="0.08">area</text>
<text x="68.4" y="486.75" font-size="6.2" text-anchor="start" fill="#333" stroke="#333" stroke-width="0.08">population</text>
<rect x="51.5" y="472.5" width="145" height="116" fill="none" stroke="#484848" stroke-width="1.0"/>
<line x1="51.5" y1="588.6" x2="53.7" y2="588.6" stroke="#333333" stroke-width="0.9"/>
<text x="49.3" y="591.04" font-size="7.4" text-anchor="end" fill="#222" stroke="#222" stroke-width="0.09">6</text>
<line x1="51.5" y1="559.52" x2="53.7" y2="559.52" stroke="#333333" stroke-width="0.9"/>
<text x="49.3" y="561.97" font-size="7.4" text-anchor="end" fill="#222" stroke="#222" stroke-width="0.09">9</text>
<line x1="51.5" y1="530.45" x2="53.7" y2="530.45" stroke="#333333" stroke-width="0.9"/>
<text x="49.3" y="532.89" font-size="7.4" text-anchor="end" fill="#222" stroke="#222" stroke-width="0.09">12</text>
<line x1="51.5" y1="501.38" x2="53.7" y2="501.38" stroke="#333333" stroke-width="0.9"/>
<text x="49.3" y="503.82" font-size="7.4" text-anchor="end" fill="#222" stroke="#222" stroke-width="0.09">15</text>
<line x1="51.5" y1="472.3" x2="53.7" y2="472.3" stroke="#333333" stroke-width="0.9"/>
<text x="49.3" y="474.74" font-size="7.4" text-anchor="end" fill="#222" stroke="#222" stroke-width="0.09">18</text>
<line x1="51.5" y1="574.06" x2="52.8" y2="574.06" stroke="#333333" stroke-width="0.8"/>
<line x1="51.5" y1="544.99" x2="52.8" y2="544.99" stroke="#333333" stroke-width="0.8"/>
<line x1="51.5" y1="515.91" x2="52.8" y2="515.91" stroke="#333333" stroke-width="0.8"/>
<line x1="51.5" y1="486.84" x2="52.8" y2="486.84" stroke="#333333" stroke-width="0.8"/>
<line x1="58.2" y1="588.5" x2="58.2" y2="586.3" stroke="#333333" stroke-width="0.9"/>
<text x="58.2" y="596.74" font-size="7.4" text-anchor="middle" fill="#222" stroke="#222" stroke-width="0.09">2000</text>
<line x1="91.15" y1="588.5" x2="91.15" y2="586.3" stroke="#333333" stroke-width="0.9"/>
<text x="91.15" y="596.74" font-size="7.4" text-anchor="middle" fill="#222" stroke="#222" stroke-width="0.09">2005</text>
<line x1="124.1" y1="588.5" x2="124.1" y2="586.3" stroke="#333333" stroke-width="0.9"/>
<text x="124.1" y="596.74" font-size="7.4" text-anchor="middle" fill="#222" stroke="#222" stroke-width="0.09">2010</text>
<line x1="157.05" y1="588.5" x2="157.05" y2="586.3" stroke="#333333" stroke-width="0.9"/>
<text x="157.05" y="596.74" font-size="7.4" text-anchor="middle" fill="#222" stroke="#222" stroke-width="0.09">2015</text>
<line x1="190" y1="588.5" x2="190" y2="586.3" stroke="#333333" stroke-width="0.9"/>
<text x="190" y="596.74" font-size="7.4" text-anchor="middle" fill="#222" stroke="#222" stroke-width="0.09">2020</text>
<line x1="74.68" y1="588.5" x2="74.68" y2="587.2" stroke="#333333" stroke-width="0.8"/>
<line x1="107.62" y1="588.5" x2="107.62" y2="587.2" stroke="#333333" stroke-width="0.8"/>
<line x1="140.57" y1="588.5" x2="140.57" y2="587.2" stroke="#333333" stroke-width="0.8"/>
<line x1="173.53" y1="588.5" x2="173.53" y2="587.2" stroke="#333333" stroke-width="0.8"/>
<text x="124.3" y="606.82" font-size="9" text-anchor="middle" fill="#222" stroke="#222" stroke-width="0.11">Year</text>
<text x="35.4" y="535.47" font-size="9.9" text-anchor="middle" fill="#222" stroke="#222" stroke-width="0.12" transform="rotate(-90 35.4 532.2)">Proportion (%)</text>
<text x="187.8" y="582.35" font-size="13.0" text-anchor="middle" fill="#1a1a1a">(j)</text>
<path d="M58.2,696.35 L61.5,697.2 L64.79,698.06 L68.09,698.91 L71.38,699.77 L74.68,700.62 L77.97,701.47 L81.27,702.32 L84.56,703.17 L87.86,704.02 L91.15,704.87 L94.44,705.72 L97.74,706.56 L101.03,707.41 L104.33,708.25 L107.62,709.09 L110.92,709.92 L114.22,710.76 L117.51,711.58 L120.81,712.41 L124.1,713.22 L127.39,714.04 L130.69,714.84 L133.99,715.64 L137.28,716.44 L140.57,717.23 L143.87,718.02 L147.17,718.81 L150.46,719.6 L153.75,720.39 L157.05,721.17 L160.34,721.96 L163.64,722.74 L166.94,723.52 L170.23,724.31 L173.53,725.09 L176.82,725.87 L180.12,726.65 L183.41,727.44 L186.7,728.22 L190,729 L190,734 L186.7,733.17 L183.41,732.33 L180.12,731.5 L176.82,730.67 L173.53,729.84 L170.23,729 L166.94,728.17 L163.64,727.34 L160.34,726.51 L157.05,725.68 L153.75,724.85 L150.46,724.02 L147.17,723.19 L143.87,722.37 L140.57,721.54 L137.28,720.72 L133.99,719.9 L130.69,719.09 L127.39,718.28 L124.1,717.48 L120.81,716.68 L117.51,715.89 L114.22,715.1 L110.92,714.32 L107.62,713.54 L104.33,712.76 L101.03,711.99 L97.74,711.22 L94.44,710.45 L91.15,709.68 L87.86,708.91 L84.56,708.15 L81.27,707.38 L77.97,706.62 L74.68,705.86 L71.38,705.09 L68.09,704.33 L64.79,703.57 L61.5,702.81 L58.2,702.05Z" fill="#fabdbd" opacity="0.9"/>
<path d="M58.2,638.15 L61.5,639.84 L64.79,641.53 L68.09,643.23 L71.38,644.92 L74.68,646.62 L77.97,648.31 L81.27,650.01 L84.56,651.7 L87.86,653.4 L91.15,655.09 L94.44,656.79 L97.74,658.48 L101.03,660.18 L104.33,661.87 L107.62,663.56 L110.92,665.25 L114.22,666.93 L117.51,668.61 L120.81,670.29 L124.1,671.96 L127.39,673.62 L130.69,675.27 L133.99,676.92 L137.28,678.57 L140.57,680.2 L143.87,681.84 L147.17,683.47 L150.46,685.1 L153.75,686.73 L157.05,688.35 L160.34,689.97 L163.64,691.59 L166.94,693.21 L170.23,694.83 L173.53,696.44 L176.82,698.06 L180.12,699.67 L183.41,701.28 L186.7,702.89 L190,704.5 L190,711.9 L186.7,710.13 L183.41,708.36 L180.12,706.59 L176.82,704.82 L173.53,703.06 L170.23,701.29 L166.94,699.53 L163.64,697.77 L160.34,696.01 L157.05,694.25 L153.75,692.49 L150.46,690.74 L147.17,688.99 L143.87,687.24 L140.57,685.5 L137.28,683.75 L133.99,682.02 L130.69,680.29 L127.39,678.56 L124.1,676.84 L120.81,675.13 L117.51,673.43 L114.22,671.73 L110.92,670.03 L107.62,668.34 L104.33,666.65 L101.03,664.96 L97.74,663.28 L94.44,661.59 L91.15,659.91 L87.86,658.22 L84.56,656.54 L81.27,654.85 L77.97,653.17 L74.68,651.48 L71.38,649.8 L68.09,648.11 L64.79,646.43 L61.5,644.74 L58.2,643.05Z" fill="#e2eacb" opacity="0.9"/>
<circle cx="58.2" cy="633.64" r="1.45" fill="#90aa3c"/>
<circle cx="64.79" cy="635.04" r="1.45" fill="#90aa3c"/>
<circle cx="71.38" cy="642.06" r="1.45" fill="#90aa3c"/>
<circle cx="77.97" cy="648.37" r="1.45" fill="#90aa3c"/>
<circle cx="84.56" cy="650.71" r="1.45" fill="#90aa3c"/>
<circle cx="91.15" cy="654.21" r="1.45" fill="#90aa3c"/>
<circle cx="97.74" cy="660.76" r="1.45" fill="#90aa3c"/>
<circle cx="104.33" cy="661.69" r="1.45" fill="#90aa3c"/>
<circle cx="110.92" cy="665.67" r="1.45" fill="#90aa3c"/>
<circle cx="117.51" cy="675.01" r="1.45" fill="#90aa3c"/>
<circle cx="124.1" cy="677.12" r="1.45" fill="#90aa3c"/>
<circle cx="130.69" cy="682.73" r="1.45" fill="#90aa3c"/>
<circle cx="137.28" cy="685.77" r="1.45" fill="#90aa3c"/>
<circle cx="143.87" cy="690.91" r="1.45" fill="#90aa3c"/>
<circle cx="150.46" cy="698.39" r="1.45" fill="#90aa3c"/>
<circle cx="157.05" cy="691.85" r="1.45" fill="#90aa3c"/>
<circle cx="163.64" cy="693.95" r="1.45" fill="#90aa3c"/>
<circle cx="170.23" cy="695.59" r="1.45" fill="#90aa3c"/>
<circle cx="176.82" cy="697.92" r="1.45" fill="#90aa3c"/>
<circle cx="183.41" cy="701.43" r="1.45" fill="#90aa3c"/>
<circle cx="190" cy="698.39" r="1.45" fill="#90aa3c"/>
<circle cx="58.2" cy="692.78" r="1.45" fill="#f2393b"/>
<circle cx="64.79" cy="695.12" r="1.45" fill="#f2393b"/>
<circle cx="71.38" cy="700.03" r="1.45" fill="#f2393b"/>
<circle cx="77.97" cy="703.3" r="1.45" fill="#f2393b"/>
<circle cx="84.56" cy="704.93" r="1.45" fill="#f2393b"/>
<circle cx="91.15" cy="707.04" r="1.45" fill="#f2393b"/>
<circle cx="97.74" cy="710.31" r="1.45" fill="#f2393b"/>
<circle cx="104.33" cy="711.01" r="1.45" fill="#f2393b"/>
<circle cx="110.92" cy="713.58" r="1.45" fill="#f2393b"/>
<circle cx="117.51" cy="718.49" r="1.45" fill="#f2393b"/>
<circle cx="124.1" cy="719.43" r="1.45" fill="#f2393b"/>
<circle cx="130.69" cy="721.76" r="1.45" fill="#f2393b"/>
<circle cx="137.28" cy="723.4" r="1.45" fill="#f2393b"/>
<circle cx="143.87" cy="724.57" r="1.45" fill="#f2393b"/>
<circle cx="150.46" cy="727.61" r="1.45" fill="#f2393b"/>
<circle cx="157.05" cy="723.87" r="1.45" fill="#f2393b"/>
<circle cx="163.64" cy="725.04" r="1.45" fill="#f2393b"/>
<circle cx="170.23" cy="725.74" r="1.45" fill="#f2393b"/>
<circle cx="176.82" cy="726.67" r="1.45" fill="#f2393b"/>
<circle cx="183.41" cy="727.61" r="1.45" fill="#f2393b"/>
<circle cx="190" cy="726.67" r="1.45" fill="#f2393b"/>
<text x="67.9" y="688.68" font-size="6.6" text-anchor="start" fill="#f27d7d" stroke="#f27d7d" stroke-width="0.08">y=-0.73742x ± 0.05443</text>
<text x="67.9" y="697.28" font-size="6.6" text-anchor="start" fill="#f27d7d" stroke="#f27d7d" stroke-width="0.08">R<tspan dy="-2" font-size="4.5">2</tspan><tspan dy="2">=0.90</tspan></text>
<text x="123.9" y="658.68" font-size="6.6" text-anchor="start" fill="#c6d08c" stroke="#c6d08c" stroke-width="0.08">y=-1.53035x ± 0.07714</text>
<text x="123.9" y="667.38" font-size="6.6" text-anchor="start" fill="#c6d08c" stroke="#c6d08c" stroke-width="0.08">R<tspan dy="-2" font-size="4.5">2</tspan><tspan dy="2">=0.95</tspan></text>
<circle cx="160.4" cy="628.7" r="1.5" fill="#90aa3c"/>
<circle cx="160.4" cy="636.9" r="1.5" fill="#f2393b"/>
<text x="168.1" y="630.75" font-size="6.2" text-anchor="start" fill="#333" stroke="#333" stroke-width="0.08">area</text>
<text x="168.1" y="638.95" font-size="6.2" text-anchor="start" fill="#333" stroke="#333" stroke-width="0.08">population</text>
<rect x="51.5" y="624.5" width="145" height="117" fill="none" stroke="#484848" stroke-width="1.0"/>
<line x1="51.5" y1="741.4" x2="53.7" y2="741.4" stroke="#333333" stroke-width="0.9"/>
<text x="49.3" y="743.84" font-size="7.4" text-anchor="end" fill="#222" stroke="#222" stroke-width="0.09">0</text>
<line x1="51.5" y1="722.7" x2="53.7" y2="722.7" stroke="#333333" stroke-width="0.9"/>
<text x="49.3" y="725.14" font-size="7.4" text-anchor="end" fill="#222" stroke="#222" stroke-width="0.09">8</text>
<line x1="51.5" y1="704" x2="53.7" y2="704" stroke="#333333" stroke-width="0.9"/>
<text x="49.3" y="706.44" font-size="7.4" text-anchor="end" fill="#222" stroke="#222" stroke-width="0.09">16</text>
<line x1="51.5" y1="685.3" x2="53.7" y2="685.3" stroke="#333333" stroke-width="0.9"/>
<text x="49.3" y="687.74" font-size="7.4" text-anchor="end" fill="#222" stroke="#222" stroke-width="0.09">24</text>
<line x1="51.5" y1="666.6" x2="53.7" y2="666.6" stroke="#333333" stroke-width="0.9"/>
<text x="49.3" y="669.04" font-size="7.4" text-anchor="end" fill="#222" stroke="#222" stroke-width="0.09">32</text>
<line x1="51.5" y1="647.9" x2="53.7" y2="647.9" stroke="#333333" stroke-width="0.9"/>
<text x="49.3" y="650.34" font-size="7.4" text-anchor="end" fill="#222" stroke="#222" stroke-width="0.09">40</text>
<line x1="51.5" y1="629.2" x2="53.7" y2="629.2" stroke="#333333" stroke-width="0.9"/>
<text x="49.3" y="631.64" font-size="7.4" text-anchor="end" fill="#222" stroke="#222" stroke-width="0.09">48</text>
<line x1="51.5" y1="732.05" x2="52.8" y2="732.05" stroke="#333333" stroke-width="0.8"/>
<line x1="51.5" y1="713.35" x2="52.8" y2="713.35" stroke="#333333" stroke-width="0.8"/>
<line x1="51.5" y1="694.65" x2="52.8" y2="694.65" stroke="#333333" stroke-width="0.8"/>
<line x1="51.5" y1="675.95" x2="52.8" y2="675.95" stroke="#333333" stroke-width="0.8"/>
<line x1="51.5" y1="657.25" x2="52.8" y2="657.25" stroke="#333333" stroke-width="0.8"/>
<line x1="51.5" y1="638.55" x2="52.8" y2="638.55" stroke="#333333" stroke-width="0.8"/>
<line x1="58.2" y1="741.5" x2="58.2" y2="739.3" stroke="#333333" stroke-width="0.9"/>
<text x="58.2" y="749.74" font-size="7.4" text-anchor="middle" fill="#222" stroke="#222" stroke-width="0.09">2000</text>
<line x1="91.15" y1="741.5" x2="91.15" y2="739.3" stroke="#333333" stroke-width="0.9"/>
<text x="91.15" y="749.74" font-size="7.4" text-anchor="middle" fill="#222" stroke="#222" stroke-width="0.09">2005</text>
<line x1="124.1" y1="741.5" x2="124.1" y2="739.3" stroke="#333333" stroke-width="0.9"/>
<text x="124.1" y="749.74" font-size="7.4" text-anchor="middle" fill="#222" stroke="#222" stroke-width="0.09">2010</text>
<line x1="157.05" y1="741.5" x2="157.05" y2="739.3" stroke="#333333" stroke-width="0.9"/>
<text x="157.05" y="749.74" font-size="7.4" text-anchor="middle" fill="#222" stroke="#222" stroke-width="0.09">2015</text>
<line x1="190" y1="741.5" x2="190" y2="739.3" stroke="#333333" stroke-width="0.9"/>
<text x="190" y="749.74" font-size="7.4" text-anchor="middle" fill="#222" stroke="#222" stroke-width="0.09">2020</text>
<line x1="74.68" y1="741.5" x2="74.68" y2="740.2" stroke="#333333" stroke-width="0.8"/>
<line x1="107.62" y1="741.5" x2="107.62" y2="740.2" stroke="#333333" stroke-width="0.8"/>
<line x1="140.57" y1="741.5" x2="140.57" y2="740.2" stroke="#333333" stroke-width="0.8"/>
<line x1="173.53" y1="741.5" x2="173.53" y2="740.2" stroke="#333333" stroke-width="0.8"/>
<text x="124.3" y="759.82" font-size="9" text-anchor="middle" fill="#222" stroke="#222" stroke-width="0.11">Year</text>
<text x="35.4" y="692.67" font-size="9.9" text-anchor="middle" fill="#222" stroke="#222" stroke-width="0.12" transform="rotate(-90 35.4 689.4)">Proportion (%)</text>
<text x="187.8" y="735.35" font-size="13.0" text-anchor="middle" fill="#1a1a1a">(m)</text>
<clipPath id="cpb"><rect x="225.5" y="14.5" width="140" height="117"/></clipPath>
<g clip-path="url(#cpb)">
<rect x="231.65" y="59.54" width="10.1" height="39.56" fill="#f2a7aa"/>
<rect x="255.05" y="84.44" width="10.1" height="14.66" fill="#f2a7aa"/>
<rect x="278.45" y="99.1" width="10.1" height="24.9" fill="#f2a7aa"/>
<rect x="301.85" y="88.28" width="10.1" height="10.82" fill="#f2a7aa"/>
<rect x="325.25" y="74.07" width="10.1" height="25.03" fill="#f2a7aa"/>
<rect x="348.65" y="80.29" width="10.1" height="18.81" fill="#f2a7aa"/>
<rect x="229.6" y="33.21" width="14.2" height="65.89" fill="none" stroke="#e8262c" stroke-width="1.4"/>
<rect x="253" y="58.5" width="14.2" height="40.6" fill="none" stroke="#e8262c" stroke-width="1.4"/>
<rect x="276.4" y="89.24" width="14.2" height="9.86" fill="none" stroke="#e8262c" stroke-width="1.4"/>
<rect x="299.8" y="83.54" width="14.2" height="15.56" fill="none" stroke="#e8262c" stroke-width="1.4"/>
<rect x="323.2" y="55.39" width="14.2" height="43.71" fill="none" stroke="#e8262c" stroke-width="1.4"/>
<rect x="346.6" y="54.87" width="14.2" height="44.23" fill="none" stroke="#e8262c" stroke-width="1.4"/>
<line x1="225.5" y1="99.1" x2="365.5" y2="99.1" stroke="#333333" stroke-width="1.0"/>
<text x="236.7" y="32.06" font-size="5" text-anchor="middle" fill="#4a8fae" stroke="#4a8fae" stroke-width="0.06">0.508</text>
<text x="236.7" y="58.39" font-size="5" text-anchor="middle" fill="#4a8fae" stroke="#4a8fae" stroke-width="0.06">0.305</text>
<text x="260.1" y="57.35" font-size="5" text-anchor="middle" fill="#4a8fae" stroke="#4a8fae" stroke-width="0.06">0.313</text>
<text x="260.1" y="83.29" font-size="5" text-anchor="middle" fill="#4a8fae" stroke="#4a8fae" stroke-width="0.06">0.113</text>
<text x="283.5" y="88.09" font-size="5" text-anchor="middle" fill="#4a8fae" stroke="#4a8fae" stroke-width="0.06">0.0760</text>
<text x="283.5" y="129.05" font-size="5" text-anchor="middle" fill="#4a8fae" stroke="#4a8fae" stroke-width="0.06">-0.192</text>
<text x="306.9" y="82.39" font-size="5" text-anchor="middle" fill="#4a8fae" stroke="#4a8fae" stroke-width="0.06">0.12</text>
<text x="306.9" y="87.13" font-size="5" text-anchor="middle" fill="#4a8fae" stroke="#4a8fae" stroke-width="0.06">0.0834</text>
<text x="330.3" y="54.24" font-size="5" text-anchor="middle" fill="#4a8fae" stroke="#4a8fae" stroke-width="0.06">0.337</text>
<text x="330.3" y="72.92" font-size="5" text-anchor="middle" fill="#4a8fae" stroke="#4a8fae" stroke-width="0.06">0.193</text>
<text x="353.7" y="53.72" font-size="5" text-anchor="middle" fill="#4a8fae" stroke="#4a8fae" stroke-width="0.06">0.341</text>
<text x="353.7" y="79.14" font-size="5" text-anchor="middle" fill="#4a8fae" stroke="#4a8fae" stroke-width="0.06">0.145</text>
</g>
<rect x="323.4" y="16.5" width="13.1" height="6.1" fill="#f2a7aa"/>
<rect x="324.1" y="24.1" width="12.2" height="6.2" fill="none" stroke="#e8262c" stroke-width="1.4"/>
<text x="338.4" y="21.98" font-size="6.3" text-anchor="start" fill="#2a2a2a" stroke="#2a2a2a" stroke-width="0.08">population</text>
<text x="338.4" y="29.58" font-size="6.3" text-anchor="start" fill="#2a2a2a" stroke="#2a2a2a" stroke-width="0.08">area</text>
<rect x="225.5" y="14.5" width="140" height="117" fill="none" stroke="#484848" stroke-width="1.0"/>
<line x1="225.5" y1="125.04" x2="227.7" y2="125.04" stroke="#333333" stroke-width="0.9"/>
<text x="223.3" y="127.48" font-size="7.4" text-anchor="end" fill="#222" stroke="#222" stroke-width="0.09">-0.2</text>
<line x1="225.5" y1="99.1" x2="227.7" y2="99.1" stroke="#333333" stroke-width="0.9"/>
<text x="223.3" y="101.54" font-size="7.4" text-anchor="end" fill="#222" stroke="#222" stroke-width="0.09">0.0</text>
<line x1="225.5" y1="73.16" x2="227.7" y2="73.16" stroke="#333333" stroke-width="0.9"/>
<text x="223.3" y="75.6" font-size="7.4" text-anchor="end" fill="#222" stroke="#222" stroke-width="0.09">0.2</text>
<line x1="225.5" y1="47.22" x2="227.7" y2="47.22" stroke="#333333" stroke-width="0.9"/>
<text x="223.3" y="49.66" font-size="7.4" text-anchor="end" fill="#222" stroke="#222" stroke-width="0.09">0.4</text>
<line x1="225.5" y1="21.28" x2="227.7" y2="21.28" stroke="#333333" stroke-width="0.9"/>
<text x="223.3" y="23.72" font-size="7.4" text-anchor="end" fill="#222" stroke="#222" stroke-width="0.09">0.6</text>
<line x1="225.5" y1="112.07" x2="226.8" y2="112.07" stroke="#333333" stroke-width="0.8"/>
<line x1="225.5" y1="86.13" x2="226.8" y2="86.13" stroke="#333333" stroke-width="0.8"/>
<line x1="225.5" y1="60.19" x2="226.8" y2="60.19" stroke="#333333" stroke-width="0.8"/>
<line x1="225.5" y1="34.25" x2="226.8" y2="34.25" stroke="#333333" stroke-width="0.8"/>
<line x1="236.7" y1="131.5" x2="236.7" y2="129.3" stroke="#333333" stroke-width="0.9"/>
<text x="236.7" y="139.74" font-size="7.4" text-anchor="middle" fill="#222" stroke="#222" stroke-width="0.09">E</text>
<line x1="260.1" y1="131.5" x2="260.1" y2="129.3" stroke="#333333" stroke-width="0.9"/>
<text x="260.1" y="139.74" font-size="7.4" text-anchor="middle" fill="#222" stroke="#222" stroke-width="0.09">N</text>
<line x1="283.5" y1="131.5" x2="283.5" y2="129.3" stroke="#333333" stroke-width="0.9"/>
<text x="283.5" y="139.74" font-size="7.4" text-anchor="middle" fill="#222" stroke="#222" stroke-width="0.09">NE</text>
<line x1="306.9" y1="131.5" x2="306.9" y2="129.3" stroke="#333333" stroke-width="0.9"/>
<text x="306.9" y="139.74" font-size="7.4" text-anchor="middle" fill="#222" stroke="#222" stroke-width="0.09">NW</text>
<line x1="330.3" y1="131.5" x2="330.3" y2="129.3" stroke="#333333" stroke-width="0.9"/>
<text x="330.3" y="139.74" font-size="7.4" text-anchor="middle" fill="#222" stroke="#222" stroke-width="0.09">CS</text>
<line x1="353.7" y1="131.5" x2="353.7" y2="129.3" stroke="#333333" stroke-width="0.9"/>
<text x="353.7" y="139.74" font-size="7.4" text-anchor="middle" fill="#222" stroke="#222" stroke-width="0.09">SW</text>
<line x1="248.4" y1="131.5" x2="248.4" y2="130.2" stroke="#333333" stroke-width="0.8"/>
<line x1="271.8" y1="131.5" x2="271.8" y2="130.2" stroke="#333333" stroke-width="0.8"/>
<line x1="295.2" y1="131.5" x2="295.2" y2="130.2" stroke="#333333" stroke-width="0.8"/>
<line x1="318.6" y1="131.5" x2="318.6" y2="130.2" stroke="#333333" stroke-width="0.8"/>
<line x1="342" y1="131.5" x2="342" y2="130.2" stroke="#333333" stroke-width="0.8"/>
<line x1="365.4" y1="131.5" x2="365.4" y2="130.2" stroke="#333333" stroke-width="0.8"/>
<text x="295.3" y="149.66" font-size="7.9" text-anchor="middle" fill="#222" stroke="#222" stroke-width="0.1">Region</text>
<text x="207.5" y="76.11" font-size="7.9" text-anchor="middle" fill="#222" stroke="#222" stroke-width="0.1" transform="rotate(-90 207.5 73.5)">slope / % per year</text>
<text x="357.3" y="125.15" font-size="13.0" text-anchor="middle" fill="#1a1a1a">(b)</text>
<clipPath id="cpc"><rect x="397.5" y="14.5" width="140" height="117"/></clipPath>
<g clip-path="url(#cpc)">
<rect x="405.1" y="79.5" width="11.4" height="44.98" fill="#f2a7aa"/>
<rect x="433.2" y="58.31" width="11.4" height="21.19" fill="#f2a7aa"/>
<rect x="461.3" y="53.76" width="11.4" height="25.74" fill="#f2a7aa"/>
<rect x="489.4" y="56.49" width="11.4" height="23.01" fill="#f2a7aa"/>
<rect x="517.5" y="67.15" width="11.4" height="12.35" fill="#f2a7aa"/>
<rect x="402.8" y="48.69" width="16" height="30.81" fill="none" stroke="#e8262c" stroke-width="1.4"/>
<rect x="430.9" y="25.03" width="16" height="54.47" fill="none" stroke="#e8262c" stroke-width="1.4"/>
<rect x="459" y="31.14" width="16" height="48.36" fill="none" stroke="#e8262c" stroke-width="1.4"/>
<rect x="487.1" y="34.78" width="16" height="44.72" fill="none" stroke="#e8262c" stroke-width="1.4"/>
<rect x="515.2" y="65.72" width="16" height="13.78" fill="none" stroke="#e8262c" stroke-width="1.4"/>
<line x1="397.5" y1="79.5" x2="537.5" y2="79.5" stroke="#333333" stroke-width="1.0"/>
<text x="410.8" y="47.54" font-size="5" text-anchor="middle" fill="#4a8fae" stroke="#4a8fae" stroke-width="0.06">0.237</text>
<text x="410.8" y="129.53" font-size="5" text-anchor="middle" fill="#4a8fae" stroke="#4a8fae" stroke-width="0.06">-0.346</text>
<text x="438.9" y="23.88" font-size="5" text-anchor="middle" fill="#4a8fae" stroke="#4a8fae" stroke-width="0.06">0.419</text>
<text x="438.9" y="57.16" font-size="5" text-anchor="middle" fill="#4a8fae" stroke="#4a8fae" stroke-width="0.06">0.163</text>
<text x="467" y="29.99" font-size="5" text-anchor="middle" fill="#4a8fae" stroke="#4a8fae" stroke-width="0.06">0.372</text>
<text x="467" y="52.61" font-size="5" text-anchor="middle" fill="#4a8fae" stroke="#4a8fae" stroke-width="0.06">0.198</text>
<text x="495.1" y="33.63" font-size="5" text-anchor="middle" fill="#4a8fae" stroke="#4a8fae" stroke-width="0.06">0.344</text>
<text x="495.1" y="55.34" font-size="5" text-anchor="middle" fill="#4a8fae" stroke="#4a8fae" stroke-width="0.06">0.177</text>
<text x="523.2" y="64.57" font-size="5" text-anchor="middle" fill="#4a8fae" stroke="#4a8fae" stroke-width="0.06">0.106</text>
<text x="523.2" y="66" font-size="5" text-anchor="middle" fill="#4a8fae" stroke="#4a8fae" stroke-width="0.06">0.11</text>
</g>
<rect x="495.3" y="15.7" width="13.1" height="6.1" fill="#f2a7aa"/>
<rect x="496" y="23.3" width="12.2" height="6.2" fill="none" stroke="#e8262c" stroke-width="1.4"/>
<text x="510.3" y="21.18" font-size="6.3" text-anchor="start" fill="#2a2a2a" stroke="#2a2a2a" stroke-width="0.08">population</text>
<text x="510.3" y="28.78" font-size="6.3" text-anchor="start" fill="#2a2a2a" stroke="#2a2a2a" stroke-width="0.08">area</text>
<rect x="397.5" y="14.5" width="140" height="117" fill="none" stroke="#484848" stroke-width="1.0"/>
<line x1="397.5" y1="131.5" x2="399.7" y2="131.5" stroke="#333333" stroke-width="0.9"/>
<text x="395.3" y="133.94" font-size="7.4" text-anchor="end" fill="#222" stroke="#222" stroke-width="0.09">-0.4</text>
<line x1="397.5" y1="105.5" x2="399.7" y2="105.5" stroke="#333333" stroke-width="0.9"/>
<text x="395.3" y="107.94" font-size="7.4" text-anchor="end" fill="#222" stroke="#222" stroke-width="0.09">-0.2</text>
<line x1="397.5" y1="79.5" x2="399.7" y2="79.5" stroke="#333333" stroke-width="0.9"/>
<text x="395.3" y="81.94" font-size="7.4" text-anchor="end" fill="#222" stroke="#222" stroke-width="0.09">0.0</text>
<line x1="397.5" y1="53.5" x2="399.7" y2="53.5" stroke="#333333" stroke-width="0.9"/>
<text x="395.3" y="55.94" font-size="7.4" text-anchor="end" fill="#222" stroke="#222" stroke-width="0.09">0.2</text>
<line x1="397.5" y1="27.5" x2="399.7" y2="27.5" stroke="#333333" stroke-width="0.9"/>
<text x="395.3" y="29.94" font-size="7.4" text-anchor="end" fill="#222" stroke="#222" stroke-width="0.09">0.4</text>
<line x1="397.5" y1="118.5" x2="398.8" y2="118.5" stroke="#333333" stroke-width="0.8"/>
<line x1="397.5" y1="92.5" x2="398.8" y2="92.5" stroke="#333333" stroke-width="0.8"/>
<line x1="397.5" y1="66.5" x2="398.8" y2="66.5" stroke="#333333" stroke-width="0.8"/>
<line x1="397.5" y1="40.5" x2="398.8" y2="40.5" stroke="#333333" stroke-width="0.8"/>
<line x1="410.8" y1="131.5" x2="410.8" y2="129.3" stroke="#333333" stroke-width="0.9"/>
<text x="410.8" y="139.74" font-size="7.4" text-anchor="middle" fill="#222" stroke="#222" stroke-width="0.09">I</text>
<line x1="438.9" y1="131.5" x2="438.9" y2="129.3" stroke="#333333" stroke-width="0.9"/>
<text x="438.9" y="139.74" font-size="7.4" text-anchor="middle" fill="#222" stroke="#222" stroke-width="0.09">II</text>
<line x1="467" y1="131.5" x2="467" y2="129.3" stroke="#333333" stroke-width="0.9"/>
<text x="467" y="139.74" font-size="7.4" text-anchor="middle" fill="#222" stroke="#222" stroke-width="0.09">III</text>
<line x1="495.1" y1="131.5" x2="495.1" y2="129.3" stroke="#333333" stroke-width="0.9"/>
<text x="495.1" y="139.74" font-size="7.4" text-anchor="middle" fill="#222" stroke="#222" stroke-width="0.09">IV</text>
<line x1="523.2" y1="131.5" x2="523.2" y2="129.3" stroke="#333333" stroke-width="0.9"/>
<text x="523.2" y="139.74" font-size="7.4" text-anchor="middle" fill="#222" stroke="#222" stroke-width="0.09">V</text>
<line x1="424.85" y1="131.5" x2="424.85" y2="130.2" stroke="#333333" stroke-width="0.8"/>
<line x1="452.95" y1="131.5" x2="452.95" y2="130.2" stroke="#333333" stroke-width="0.8"/>
<line x1="481.05" y1="131.5" x2="481.05" y2="130.2" stroke="#333333" stroke-width="0.8"/>
<line x1="509.15" y1="131.5" x2="509.15" y2="130.2" stroke="#333333" stroke-width="0.8"/>
<line x1="537.25" y1="131.5" x2="537.25" y2="130.2" stroke="#333333" stroke-width="0.8"/>
<text x="467" y="149.66" font-size="7.9" text-anchor="middle" fill="#222" stroke="#222" stroke-width="0.1">City level</text>
<text x="378.5" y="76.11" font-size="7.9" text-anchor="middle" fill="#222" stroke="#222" stroke-width="0.1" transform="rotate(-90 378.5 73.5)">slope / % per year</text>
<text x="529.3" y="125.15" font-size="13.0" text-anchor="middle" fill="#1a1a1a">(c)</text>
<clipPath id="cpe"><rect x="225.5" y="167.5" width="140" height="116"/></clipPath>
<g clip-path="url(#cpe)">
<rect x="231.65" y="209.06" width="10.1" height="74.84" fill="#f1c49a"/>
<rect x="255.05" y="225.08" width="10.1" height="58.82" fill="#f1c49a"/>
<rect x="278.45" y="212.56" width="10.1" height="71.34" fill="#f1c49a"/>
<rect x="301.85" y="222.59" width="10.1" height="61.31" fill="#f1c49a"/>
<rect x="325.25" y="213.34" width="10.1" height="70.56" fill="#f1c49a"/>
<rect x="348.65" y="211.23" width="10.1" height="72.67" fill="#f1c49a"/>
<rect x="229.6" y="182.76" width="14.2" height="101.14" fill="none" stroke="#ef8a36" stroke-width="1.4"/>
<rect x="253" y="214.5" width="14.2" height="69.4" fill="none" stroke="#ef8a36" stroke-width="1.4"/>
<rect x="276.4" y="207.97" width="14.2" height="75.93" fill="none" stroke="#ef8a36" stroke-width="1.4"/>
<rect x="299.8" y="204.54" width="14.2" height="79.36" fill="none" stroke="#ef8a36" stroke-width="1.4"/>
<rect x="323.2" y="196.76" width="14.2" height="87.14" fill="none" stroke="#ef8a36" stroke-width="1.4"/>
<rect x="346.6" y="200.65" width="14.2" height="83.25" fill="none" stroke="#ef8a36" stroke-width="1.4"/>
<text x="236.7" y="181.61" font-size="5" text-anchor="middle" fill="#7a5a82" stroke="#7a5a82" stroke-width="0.06">1.3</text>
<text x="236.7" y="207.91" font-size="5" text-anchor="middle" fill="#7a5a82" stroke="#7a5a82" stroke-width="0.06">0.962</text>
<text x="260.1" y="213.35" font-size="5" text-anchor="middle" fill="#7a5a82" stroke="#7a5a82" stroke-width="0.06">0.892</text>
<text x="260.1" y="223.93" font-size="5" text-anchor="middle" fill="#7a5a82" stroke="#7a5a82" stroke-width="0.06">0.756</text>
<text x="283.5" y="206.82" font-size="5" text-anchor="middle" fill="#7a5a82" stroke="#7a5a82" stroke-width="0.06">0.976</text>
<text x="283.5" y="211.41" font-size="5" text-anchor="middle" fill="#7a5a82" stroke="#7a5a82" stroke-width="0.06">0.917</text>
<text x="306.9" y="203.39" font-size="5" text-anchor="middle" fill="#7a5a82" stroke="#7a5a82" stroke-width="0.06">1.02</text>
<text x="306.9" y="221.44" font-size="5" text-anchor="middle" fill="#7a5a82" stroke="#7a5a82" stroke-width="0.06">0.788</text>
<text x="330.3" y="195.61" font-size="5" text-anchor="middle" fill="#7a5a82" stroke="#7a5a82" stroke-width="0.06">1.12</text>
<text x="330.3" y="212.19" font-size="5" text-anchor="middle" fill="#7a5a82" stroke="#7a5a82" stroke-width="0.06">0.907</text>
<text x="353.7" y="199.5" font-size="5" text-anchor="middle" fill="#7a5a82" stroke="#7a5a82" stroke-width="0.06">1.07</text>
<text x="353.7" y="210.08" font-size="5" text-anchor="middle" fill="#7a5a82" stroke="#7a5a82" stroke-width="0.06">0.934</text>
</g>
<rect x="323.4" y="169.5" width="13.1" height="6.1" fill="#f1c49a"/>
<rect x="324.1" y="177.1" width="12.2" height="6.2" fill="none" stroke="#ef8a36" stroke-width="1.4"/>
<text x="338.4" y="174.98" font-size="6.3" text-anchor="start" fill="#2a2a2a" stroke="#2a2a2a" stroke-width="0.08">population</text>
<text x="338.4" y="182.58" font-size="6.3" text-anchor="start" fill="#2a2a2a" stroke="#2a2a2a" stroke-width="0.08">area</text>
<rect x="225.5" y="167.5" width="140" height="116" fill="none" stroke="#484848" stroke-width="1.0"/>
<line x1="225.5" y1="283.9" x2="227.7" y2="283.9" stroke="#333333" stroke-width="0.9"/>
<text x="223.3" y="286.34" font-size="7.4" text-anchor="end" fill="#222" stroke="#222" stroke-width="0.09">0.0</text>
<line x1="225.5" y1="260.56" x2="227.7" y2="260.56" stroke="#333333" stroke-width="0.9"/>
<text x="223.3" y="263" font-size="7.4" text-anchor="end" fill="#222" stroke="#222" stroke-width="0.09">0.3</text>
<line x1="225.5" y1="237.22" x2="227.7" y2="237.22" stroke="#333333" stroke-width="0.9"/>
<text x="223.3" y="239.66" font-size="7.4" text-anchor="end" fill="#222" stroke="#222" stroke-width="0.09">0.6</text>
<line x1="225.5" y1="213.88" x2="227.7" y2="213.88" stroke="#333333" stroke-width="0.9"/>
<text x="223.3" y="216.32" font-size="7.4" text-anchor="end" fill="#222" stroke="#222" stroke-width="0.09">0.9</text>
<line x1="225.5" y1="190.54" x2="227.7" y2="190.54" stroke="#333333" stroke-width="0.9"/>
<text x="223.3" y="192.98" font-size="7.4" text-anchor="end" fill="#222" stroke="#222" stroke-width="0.09">1.2</text>
<line x1="225.5" y1="167.2" x2="227.7" y2="167.2" stroke="#333333" stroke-width="0.9"/>
<text x="223.3" y="169.64" font-size="7.4" text-anchor="end" fill="#222" stroke="#222" stroke-width="0.09">1.5</text>
<line x1="225.5" y1="272.23" x2="226.8" y2="272.23" stroke="#333333" stroke-width="0.8"/>
<line x1="225.5" y1="248.89" x2="226.8" y2="248.89" stroke="#333333" stroke-width="0.8"/>
<line x1="225.5" y1="225.55" x2="226.8" y2="225.55" stroke="#333333" stroke-width="0.8"/>
<line x1="225.5" y1="202.21" x2="226.8" y2="202.21" stroke="#333333" stroke-width="0.8"/>
<line x1="225.5" y1="178.87" x2="226.8" y2="178.87" stroke="#333333" stroke-width="0.8"/>
<line x1="236.7" y1="283.5" x2="236.7" y2="281.3" stroke="#333333" stroke-width="0.9"/>
<text x="236.7" y="291.74" font-size="7.4" text-anchor="middle" fill="#222" stroke="#222" stroke-width="0.09">E</text>
<line x1="260.1" y1="283.5" x2="260.1" y2="281.3" stroke="#333333" stroke-width="0.9"/>
<text x="260.1" y="291.74" font-size="7.4" text-anchor="middle" fill="#222" stroke="#222" stroke-width="0.09">N</text>
<line x1="283.5" y1="283.5" x2="283.5" y2="281.3" stroke="#333333" stroke-width="0.9"/>
<text x="283.5" y="291.74" font-size="7.4" text-anchor="middle" fill="#222" stroke="#222" stroke-width="0.09">NE</text>
<line x1="306.9" y1="283.5" x2="306.9" y2="281.3" stroke="#333333" stroke-width="0.9"/>
<text x="306.9" y="291.74" font-size="7.4" text-anchor="middle" fill="#222" stroke="#222" stroke-width="0.09">NW</text>
<line x1="330.3" y1="283.5" x2="330.3" y2="281.3" stroke="#333333" stroke-width="0.9"/>
<text x="330.3" y="291.74" font-size="7.4" text-anchor="middle" fill="#222" stroke="#222" stroke-width="0.09">CS</text>
<line x1="353.7" y1="283.5" x2="353.7" y2="281.3" stroke="#333333" stroke-width="0.9"/>
<text x="353.7" y="291.74" font-size="7.4" text-anchor="middle" fill="#222" stroke="#222" stroke-width="0.09">SW</text>
<line x1="248.4" y1="283.5" x2="248.4" y2="282.2" stroke="#333333" stroke-width="0.8"/>
<line x1="271.8" y1="283.5" x2="271.8" y2="282.2" stroke="#333333" stroke-width="0.8"/>
<line x1="295.2" y1="283.5" x2="295.2" y2="282.2" stroke="#333333" stroke-width="0.8"/>
<line x1="318.6" y1="283.5" x2="318.6" y2="282.2" stroke="#333333" stroke-width="0.8"/>
<line x1="342" y1="283.5" x2="342" y2="282.2" stroke="#333333" stroke-width="0.8"/>
<line x1="365.4" y1="283.5" x2="365.4" y2="282.2" stroke="#333333" stroke-width="0.8"/>
<text x="295.3" y="301.66" font-size="7.9" text-anchor="middle" fill="#222" stroke="#222" stroke-width="0.1">Region</text>
<text x="207.5" y="228.61" font-size="7.9" text-anchor="middle" fill="#222" stroke="#222" stroke-width="0.1" transform="rotate(-90 207.5 226)">slope / % per year</text>
<text x="357.3" y="277.15" font-size="13.0" text-anchor="middle" fill="#1a1a1a">(e)</text>
<clipPath id="cpf"><rect x="397.5" y="167.5" width="140" height="116"/></clipPath>
<g clip-path="url(#cpf)">
<rect x="405.1" y="192.87" width="11.4" height="91.03" fill="#f1c49a"/>
<rect x="433.2" y="215.12" width="11.4" height="68.78" fill="#f1c49a"/>
<rect x="461.3" y="206.1" width="11.4" height="77.8" fill="#f1c49a"/>
<rect x="489.4" y="214.19" width="11.4" height="69.71" fill="#f1c49a"/>
<rect x="517.5" y="229.83" width="11.4" height="54.07" fill="#f1c49a"/>
<rect x="402.8" y="197.54" width="16" height="86.36" fill="none" stroke="#ef8a36" stroke-width="1.4"/>
<rect x="430.9" y="202.21" width="16" height="81.69" fill="none" stroke="#ef8a36" stroke-width="1.4"/>
<rect x="459" y="190.54" width="16" height="93.36" fill="none" stroke="#ef8a36" stroke-width="1.4"/>
<rect x="487.1" y="195.99" width="16" height="87.91" fill="none" stroke="#ef8a36" stroke-width="1.4"/>
<rect x="515.2" y="204.54" width="16" height="79.36" fill="none" stroke="#ef8a36" stroke-width="1.4"/>
<text x="410.8" y="196.39" font-size="5" text-anchor="middle" fill="#7a5a82" stroke="#7a5a82" stroke-width="0.06">1.11</text>
<text x="410.8" y="191.72" font-size="5" text-anchor="middle" fill="#7a5a82" stroke="#7a5a82" stroke-width="0.06">1.17</text>
<text x="438.9" y="201.06" font-size="5" text-anchor="middle" fill="#7a5a82" stroke="#7a5a82" stroke-width="0.06">1.05</text>
<text x="438.9" y="213.97" font-size="5" text-anchor="middle" fill="#7a5a82" stroke="#7a5a82" stroke-width="0.06">0.884</text>
<text x="467" y="189.39" font-size="5" text-anchor="middle" fill="#7a5a82" stroke="#7a5a82" stroke-width="0.06">1.2</text>
<text x="467" y="204.95" font-size="5" text-anchor="middle" fill="#7a5a82" stroke="#7a5a82" stroke-width="0.06">1</text>
<text x="495.1" y="194.84" font-size="5" text-anchor="middle" fill="#7a5a82" stroke="#7a5a82" stroke-width="0.06">1.13</text>
<text x="495.1" y="213.04" font-size="5" text-anchor="middle" fill="#7a5a82" stroke="#7a5a82" stroke-width="0.06">0.896</text>
<text x="523.2" y="203.39" font-size="5" text-anchor="middle" fill="#7a5a82" stroke="#7a5a82" stroke-width="0.06">1.02</text>
<text x="523.2" y="228.68" font-size="5" text-anchor="middle" fill="#7a5a82" stroke="#7a5a82" stroke-width="0.06">0.695</text>
</g>
<rect x="495.3" y="168.7" width="13.1" height="6.1" fill="#f1c49a"/>
<rect x="496" y="176.3" width="12.2" height="6.2" fill="none" stroke="#ef8a36" stroke-width="1.4"/>
<text x="510.3" y="174.18" font-size="6.3" text-anchor="start" fill="#2a2a2a" stroke="#2a2a2a" stroke-width="0.08">population</text>
<text x="510.3" y="181.78" font-size="6.3" text-anchor="start" fill="#2a2a2a" stroke="#2a2a2a" stroke-width="0.08">area</text>
<rect x="397.5" y="167.5" width="140" height="116" fill="none" stroke="#484848" stroke-width="1.0"/>
<line x1="397.5" y1="283.9" x2="399.7" y2="283.9" stroke="#333333" stroke-width="0.9"/>
<text x="395.3" y="286.34" font-size="7.4" text-anchor="end" fill="#222" stroke="#222" stroke-width="0.09">0.0</text>
<line x1="397.5" y1="260.56" x2="399.7" y2="260.56" stroke="#333333" stroke-width="0.9"/>
<text x="395.3" y="263" font-size="7.4" text-anchor="end" fill="#222" stroke="#222" stroke-width="0.09">0.3</text>
<line x1="397.5" y1="237.22" x2="399.7" y2="237.22" stroke="#333333" stroke-width="0.9"/>
<text x="395.3" y="239.66" font-size="7.4" text-anchor="end" fill="#222" stroke="#222" stroke-width="0.09">0.6</text>
<line x1="397.5" y1="213.88" x2="399.7" y2="213.88" stroke="#333333" stroke-width="0.9"/>
<text x="395.3" y="216.32" font-size="7.4" text-anchor="end" fill="#222" stroke="#222" stroke-width="0.09">0.9</text>
<line x1="397.5" y1="190.54" x2="399.7" y2="190.54" stroke="#333333" stroke-width="0.9"/>
<text x="395.3" y="192.98" font-size="7.4" text-anchor="end" fill="#222" stroke="#222" stroke-width="0.09">1.2</text>
<line x1="397.5" y1="167.2" x2="399.7" y2="167.2" stroke="#333333" stroke-width="0.9"/>
<text x="395.3" y="169.64" font-size="7.4" text-anchor="end" fill="#222" stroke="#222" stroke-width="0.09">1.5</text>
<line x1="397.5" y1="272.23" x2="398.8" y2="272.23" stroke="#333333" stroke-width="0.8"/>
<line x1="397.5" y1="248.89" x2="398.8" y2="248.89" stroke="#333333" stroke-width="0.8"/>
<line x1="397.5" y1="225.55" x2="398.8" y2="225.55" stroke="#333333" stroke-width="0.8"/>
<line x1="397.5" y1="202.21" x2="398.8" y2="202.21" stroke="#333333" stroke-width="0.8"/>
<line x1="397.5" y1="178.87" x2="398.8" y2="178.87" stroke="#333333" stroke-width="0.8"/>
<line x1="410.8" y1="283.5" x2="410.8" y2="281.3" stroke="#333333" stroke-width="0.9"/>
<text x="410.8" y="291.74" font-size="7.4" text-anchor="middle" fill="#222" stroke="#222" stroke-width="0.09">I</text>
<line x1="438.9" y1="283.5" x2="438.9" y2="281.3" stroke="#333333" stroke-width="0.9"/>
<text x="438.9" y="291.74" font-size="7.4" text-anchor="middle" fill="#222" stroke="#222" stroke-width="0.09">II</text>
<line x1="467" y1="283.5" x2="467" y2="281.3" stroke="#333333" stroke-width="0.9"/>
<text x="467" y="291.74" font-size="7.4" text-anchor="middle" fill="#222" stroke="#222" stroke-width="0.09">III</text>
<line x1="495.1" y1="283.5" x2="495.1" y2="281.3" stroke="#333333" stroke-width="0.9"/>
<text x="495.1" y="291.74" font-size="7.4" text-anchor="middle" fill="#222" stroke="#222" stroke-width="0.09">IV</text>
<line x1="523.2" y1="283.5" x2="523.2" y2="281.3" stroke="#333333" stroke-width="0.9"/>
<text x="523.2" y="291.74" font-size="7.4" text-anchor="middle" fill="#222" stroke="#222" stroke-width="0.09">V</text>
<line x1="424.85" y1="283.5" x2="424.85" y2="282.2" stroke="#333333" stroke-width="0.8"/>
<line x1="452.95" y1="283.5" x2="452.95" y2="282.2" stroke="#333333" stroke-width="0.8"/>
<line x1="481.05" y1="283.5" x2="481.05" y2="282.2" stroke="#333333" stroke-width="0.8"/>
<line x1="509.15" y1="283.5" x2="509.15" y2="282.2" stroke="#333333" stroke-width="0.8"/>
<line x1="537.25" y1="283.5" x2="537.25" y2="282.2" stroke="#333333" stroke-width="0.8"/>
<text x="467" y="301.66" font-size="7.9" text-anchor="middle" fill="#222" stroke="#222" stroke-width="0.1">City level</text>
<text x="379.2" y="228.61" font-size="7.9" text-anchor="middle" fill="#222" stroke="#222" stroke-width="0.1" transform="rotate(-90 379.2 226)">slope / % per year</text>
<text x="529.3" y="277.15" font-size="13.0" text-anchor="middle" fill="#1a1a1a">(f)</text>
<clipPath id="cph"><rect x="225.5" y="319.5" width="140" height="117"/></clipPath>
<g clip-path="url(#cph)">
<rect x="231.65" y="413.2" width="10.1" height="2.32" fill="#f4efb0"/>
<rect x="255.05" y="413.2" width="10.1" height="16.08" fill="#f4efb0"/>
<rect x="278.45" y="413.16" width="10.1" height="0.3" fill="#f4efb0"/>
<rect x="301.85" y="409.45" width="10.1" height="3.75" fill="#f4efb0"/>
<rect x="325.25" y="413.2" width="10.1" height="8.03" fill="#f4efb0"/>
<rect x="348.65" y="371.96" width="10.1" height="41.24" fill="#f4efb0"/>
<rect x="229.6" y="394.91" width="14.2" height="18.29" fill="none" stroke="#ebe22e" stroke-width="1.4"/>
<rect x="253" y="413.2" width="14.2" height="9.1" fill="none" stroke="#ebe22e" stroke-width="1.4"/>
<rect x="276.4" y="392.58" width="14.2" height="20.62" fill="none" stroke="#ebe22e" stroke-width="1.4"/>
<rect x="299.8" y="368.35" width="14.2" height="44.85" fill="none" stroke="#ebe22e" stroke-width="1.4"/>
<rect x="323.2" y="398.87" width="14.2" height="14.33" fill="none" stroke="#ebe22e" stroke-width="1.4"/>
<rect x="346.6" y="333.86" width="14.2" height="79.34" fill="none" stroke="#ebe22e" stroke-width="1.4"/>
<line x1="225.5" y1="413.2" x2="365.5" y2="413.2" stroke="#333333" stroke-width="1.0"/>
<text x="236.7" y="393.76" font-size="5" text-anchor="middle" fill="#4f6f6c" stroke="#4f6f6c" stroke-width="0.06">0.157</text>
<text x="236.7" y="420.57" font-size="5" text-anchor="middle" fill="#4f6f6c" stroke="#4f6f6c" stroke-width="0.06">-0.0199</text>
<text x="260.1" y="427.35" font-size="5" text-anchor="middle" fill="#4f6f6c" stroke="#4f6f6c" stroke-width="0.06">-0.0781</text>
<text x="260.1" y="434.33" font-size="5" text-anchor="middle" fill="#4f6f6c" stroke="#4f6f6c" stroke-width="0.06">-0.138</text>
<text x="283.5" y="391.43" font-size="5" text-anchor="middle" fill="#4f6f6c" stroke="#4f6f6c" stroke-width="0.06">0.177</text>
<text x="283.5" y="412.01" font-size="5" text-anchor="middle" fill="#4f6f6c" stroke="#4f6f6c" stroke-width="0.06">3.69E-4</text>
<text x="306.9" y="367.2" font-size="5" text-anchor="middle" fill="#4f6f6c" stroke="#4f6f6c" stroke-width="0.06">0.385</text>
<text x="306.9" y="408.3" font-size="5" text-anchor="middle" fill="#4f6f6c" stroke="#4f6f6c" stroke-width="0.06">0.0322</text>
<text x="330.3" y="397.72" font-size="5" text-anchor="middle" fill="#4f6f6c" stroke="#4f6f6c" stroke-width="0.06">0.123</text>
<text x="330.3" y="426.28" font-size="5" text-anchor="middle" fill="#4f6f6c" stroke="#4f6f6c" stroke-width="0.06">-0.0689</text>
<text x="353.7" y="332.71" font-size="5" text-anchor="middle" fill="#4f6f6c" stroke="#4f6f6c" stroke-width="0.06">0.681</text>
<text x="353.7" y="370.81" font-size="5" text-anchor="middle" fill="#4f6f6c" stroke="#4f6f6c" stroke-width="0.06">0.354</text>
</g>
<rect x="227.2" y="321.8" width="13.1" height="6.1" fill="#f4efb0"/>
<rect x="227.9" y="329.4" width="12.2" height="6.2" fill="none" stroke="#ebe22e" stroke-width="1.4"/>
<text x="242.2" y="327.28" font-size="6.3" text-anchor="start" fill="#2a2a2a" stroke="#2a2a2a" stroke-width="0.08">population</text>
<text x="242.2" y="334.88" font-size="6.3" text-anchor="start" fill="#2a2a2a" stroke="#2a2a2a" stroke-width="0.08">area</text>
<rect x="225.5" y="319.5" width="140" height="117" fill="none" stroke="#484848" stroke-width="1.0"/>
<line x1="225.5" y1="436.5" x2="227.7" y2="436.5" stroke="#333333" stroke-width="0.9"/>
<text x="223.3" y="438.94" font-size="7.4" text-anchor="end" fill="#222" stroke="#222" stroke-width="0.09">-0.2</text>
<line x1="225.5" y1="413.2" x2="227.7" y2="413.2" stroke="#333333" stroke-width="0.9"/>
<text x="223.3" y="415.64" font-size="7.4" text-anchor="end" fill="#222" stroke="#222" stroke-width="0.09">0.0</text>
<line x1="225.5" y1="389.9" x2="227.7" y2="389.9" stroke="#333333" stroke-width="0.9"/>
<text x="223.3" y="392.34" font-size="7.4" text-anchor="end" fill="#222" stroke="#222" stroke-width="0.09">0.2</text>
<line x1="225.5" y1="366.6" x2="227.7" y2="366.6" stroke="#333333" stroke-width="0.9"/>
<text x="223.3" y="369.04" font-size="7.4" text-anchor="end" fill="#222" stroke="#222" stroke-width="0.09">0.4</text>
<line x1="225.5" y1="343.3" x2="227.7" y2="343.3" stroke="#333333" stroke-width="0.9"/>
<text x="223.3" y="345.74" font-size="7.4" text-anchor="end" fill="#222" stroke="#222" stroke-width="0.09">0.6</text>
<line x1="225.5" y1="320" x2="227.7" y2="320" stroke="#333333" stroke-width="0.9"/>
<text x="223.3" y="322.44" font-size="7.4" text-anchor="end" fill="#222" stroke="#222" stroke-width="0.09">0.8</text>
<line x1="225.5" y1="424.85" x2="226.8" y2="424.85" stroke="#333333" stroke-width="0.8"/>
<line x1="225.5" y1="401.55" x2="226.8" y2="401.55" stroke="#333333" stroke-width="0.8"/>
<line x1="225.5" y1="378.25" x2="226.8" y2="378.25" stroke="#333333" stroke-width="0.8"/>
<line x1="225.5" y1="354.95" x2="226.8" y2="354.95" stroke="#333333" stroke-width="0.8"/>
<line x1="225.5" y1="331.65" x2="226.8" y2="331.65" stroke="#333333" stroke-width="0.8"/>
<line x1="236.7" y1="436.5" x2="236.7" y2="434.3" stroke="#333333" stroke-width="0.9"/>
<text x="236.7" y="444.74" font-size="7.4" text-anchor="middle" fill="#222" stroke="#222" stroke-width="0.09">E</text>
<line x1="260.1" y1="436.5" x2="260.1" y2="434.3" stroke="#333333" stroke-width="0.9"/>
<text x="260.1" y="444.74" font-size="7.4" text-anchor="middle" fill="#222" stroke="#222" stroke-width="0.09">N</text>
<line x1="283.5" y1="436.5" x2="283.5" y2="434.3" stroke="#333333" stroke-width="0.9"/>
<text x="283.5" y="444.74" font-size="7.4" text-anchor="middle" fill="#222" stroke="#222" stroke-width="0.09">NE</text>
<line x1="306.9" y1="436.5" x2="306.9" y2="434.3" stroke="#333333" stroke-width="0.9"/>
<text x="306.9" y="444.74" font-size="7.4" text-anchor="middle" fill="#222" stroke="#222" stroke-width="0.09">NW</text>
<line x1="330.3" y1="436.5" x2="330.3" y2="434.3" stroke="#333333" stroke-width="0.9"/>
<text x="330.3" y="444.74" font-size="7.4" text-anchor="middle" fill="#222" stroke="#222" stroke-width="0.09">CS</text>
<line x1="353.7" y1="436.5" x2="353.7" y2="434.3" stroke="#333333" stroke-width="0.9"/>
<text x="353.7" y="444.74" font-size="7.4" text-anchor="middle" fill="#222" stroke="#222" stroke-width="0.09">SW</text>
<line x1="248.4" y1="436.5" x2="248.4" y2="435.2" stroke="#333333" stroke-width="0.8"/>
<line x1="271.8" y1="436.5" x2="271.8" y2="435.2" stroke="#333333" stroke-width="0.8"/>
<line x1="295.2" y1="436.5" x2="295.2" y2="435.2" stroke="#333333" stroke-width="0.8"/>
<line x1="318.6" y1="436.5" x2="318.6" y2="435.2" stroke="#333333" stroke-width="0.8"/>
<line x1="342" y1="436.5" x2="342" y2="435.2" stroke="#333333" stroke-width="0.8"/>
<line x1="365.4" y1="436.5" x2="365.4" y2="435.2" stroke="#333333" stroke-width="0.8"/>
<text x="295.3" y="454.66" font-size="7.9" text-anchor="middle" fill="#222" stroke="#222" stroke-width="0.1">Region</text>
<text x="207.5" y="381.11" font-size="7.9" text-anchor="middle" fill="#222" stroke="#222" stroke-width="0.1" transform="rotate(-90 207.5 378.5)">slope / % per year</text>
<text x="357.3" y="430.15" font-size="13.0" text-anchor="middle" fill="#1a1a1a">(h)</text>
<clipPath id="cpi"><rect x="397.5" y="319.5" width="140" height="117"/></clipPath>
<g clip-path="url(#cpi)">
<rect x="405.1" y="413.2" width="11.4" height="15.49" fill="#f4efb0"/>
<rect x="433.2" y="413.2" width="11.4" height="16.75" fill="#f4efb0"/>
<rect x="461.3" y="413.2" width="11.4" height="3.33" fill="#f4efb0"/>
<rect x="489.4" y="409.33" width="11.4" height="3.87" fill="#f4efb0"/>
<rect x="517.5" y="382.37" width="11.4" height="30.83" fill="#f4efb0"/>
<rect x="402.8" y="408.13" width="16" height="5.07" fill="none" stroke="#ebe22e" stroke-width="1.4"/>
<rect x="430.9" y="400.81" width="16" height="12.39" fill="none" stroke="#ebe22e" stroke-width="1.4"/>
<rect x="459" y="393.32" width="16" height="19.88" fill="none" stroke="#ebe22e" stroke-width="1.4"/>
<rect x="487.1" y="377.05" width="16" height="36.15" fill="none" stroke="#ebe22e" stroke-width="1.4"/>
<rect x="515.2" y="333.54" width="16" height="79.66" fill="none" stroke="#ebe22e" stroke-width="1.4"/>
<line x1="397.5" y1="413.2" x2="537.5" y2="413.2" stroke="#333333" stroke-width="1.0"/>
<text x="410.8" y="406.98" font-size="5" text-anchor="middle" fill="#4f6f6c" stroke="#4f6f6c" stroke-width="0.06">0.0324</text>
<text x="410.8" y="433.74" font-size="5" text-anchor="middle" fill="#4f6f6c" stroke="#4f6f6c" stroke-width="0.06">-0.103</text>
<text x="438.9" y="399.66" font-size="5" text-anchor="middle" fill="#4f6f6c" stroke="#4f6f6c" stroke-width="0.06">0.0792</text>
<text x="438.9" y="435" font-size="5" text-anchor="middle" fill="#4f6f6c" stroke="#4f6f6c" stroke-width="0.06">-0.117</text>
<text x="467" y="392.17" font-size="5" text-anchor="middle" fill="#4f6f6c" stroke="#4f6f6c" stroke-width="0.06">0.127</text>
<text x="467" y="421.58" font-size="5" text-anchor="middle" fill="#4f6f6c" stroke="#4f6f6c" stroke-width="0.06">-0.0213</text>
<text x="495.1" y="375.9" font-size="5" text-anchor="middle" fill="#4f6f6c" stroke="#4f6f6c" stroke-width="0.06">0.231</text>
<text x="495.1" y="408.18" font-size="5" text-anchor="middle" fill="#4f6f6c" stroke="#4f6f6c" stroke-width="0.06">0.0247</text>
<text x="523.2" y="332.39" font-size="5" text-anchor="middle" fill="#4f6f6c" stroke="#4f6f6c" stroke-width="0.06">0.509</text>
<text x="523.2" y="381.22" font-size="5" text-anchor="middle" fill="#4f6f6c" stroke="#4f6f6c" stroke-width="0.06">0.197</text>
</g>
<rect x="399.5" y="322" width="13.1" height="6.1" fill="#f4efb0"/>
<rect x="400.2" y="329.6" width="12.2" height="6.2" fill="none" stroke="#ebe22e" stroke-width="1.4"/>
<text x="414.5" y="327.48" font-size="6.3" text-anchor="start" fill="#2a2a2a" stroke="#2a2a2a" stroke-width="0.08">population</text>
<text x="414.5" y="335.08" font-size="6.3" text-anchor="start" fill="#2a2a2a" stroke="#2a2a2a" stroke-width="0.08">area</text>
<rect x="397.5" y="319.5" width="140" height="117" fill="none" stroke="#484848" stroke-width="1.0"/>
<line x1="397.5" y1="413.2" x2="399.7" y2="413.2" stroke="#333333" stroke-width="0.9"/>
<text x="395.3" y="415.64" font-size="7.4" text-anchor="end" fill="#222" stroke="#222" stroke-width="0.09">0.0</text>
<line x1="397.5" y1="381.9" x2="399.7" y2="381.9" stroke="#333333" stroke-width="0.9"/>
<text x="395.3" y="384.34" font-size="7.4" text-anchor="end" fill="#222" stroke="#222" stroke-width="0.09">0.2</text>
<line x1="397.5" y1="350.6" x2="399.7" y2="350.6" stroke="#333333" stroke-width="0.9"/>
<text x="395.3" y="353.04" font-size="7.4" text-anchor="end" fill="#222" stroke="#222" stroke-width="0.09">0.4</text>
<line x1="397.5" y1="319.3" x2="399.7" y2="319.3" stroke="#333333" stroke-width="0.9"/>
<text x="395.3" y="321.74" font-size="7.4" text-anchor="end" fill="#222" stroke="#222" stroke-width="0.09">0.6</text>
<line x1="397.5" y1="428.85" x2="398.8" y2="428.85" stroke="#333333" stroke-width="0.8"/>
<line x1="397.5" y1="397.55" x2="398.8" y2="397.55" stroke="#333333" stroke-width="0.8"/>
<line x1="397.5" y1="366.25" x2="398.8" y2="366.25" stroke="#333333" stroke-width="0.8"/>
<line x1="397.5" y1="334.95" x2="398.8" y2="334.95" stroke="#333333" stroke-width="0.8"/>
<line x1="410.8" y1="436.5" x2="410.8" y2="434.3" stroke="#333333" stroke-width="0.9"/>
<text x="410.8" y="444.74" font-size="7.4" text-anchor="middle" fill="#222" stroke="#222" stroke-width="0.09">I</text>
<line x1="438.9" y1="436.5" x2="438.9" y2="434.3" stroke="#333333" stroke-width="0.9"/>
<text x="438.9" y="444.74" font-size="7.4" text-anchor="middle" fill="#222" stroke="#222" stroke-width="0.09">II</text>
<line x1="467" y1="436.5" x2="467" y2="434.3" stroke="#333333" stroke-width="0.9"/>
<text x="467" y="444.74" font-size="7.4" text-anchor="middle" fill="#222" stroke="#222" stroke-width="0.09">III</text>
<line x1="495.1" y1="436.5" x2="495.1" y2="434.3" stroke="#333333" stroke-width="0.9"/>
<text x="495.1" y="444.74" font-size="7.4" text-anchor="middle" fill="#222" stroke="#222" stroke-width="0.09">IV</text>
<line x1="523.2" y1="436.5" x2="523.2" y2="434.3" stroke="#333333" stroke-width="0.9"/>
<text x="523.2" y="444.74" font-size="7.4" text-anchor="middle" fill="#222" stroke="#222" stroke-width="0.09">V</text>
<line x1="424.85" y1="436.5" x2="424.85" y2="435.2" stroke="#333333" stroke-width="0.8"/>
<line x1="452.95" y1="436.5" x2="452.95" y2="435.2" stroke="#333333" stroke-width="0.8"/>
<line x1="481.05" y1="436.5" x2="481.05" y2="435.2" stroke="#333333" stroke-width="0.8"/>
<line x1="509.15" y1="436.5" x2="509.15" y2="435.2" stroke="#333333" stroke-width="0.8"/>
<line x1="537.25" y1="436.5" x2="537.25" y2="435.2" stroke="#333333" stroke-width="0.8"/>
<text x="467" y="454.66" font-size="7.9" text-anchor="middle" fill="#222" stroke="#222" stroke-width="0.1">City level</text>
<text x="379.2" y="381.11" font-size="7.9" text-anchor="middle" fill="#222" stroke="#222" stroke-width="0.1" transform="rotate(-90 379.2 378.5)">slope / % per year</text>
<text x="529.3" y="430.15" font-size="13.0" text-anchor="middle" fill="#1a1a1a">(i)</text>
<clipPath id="cpk"><rect x="225.5" y="472.5" width="140" height="116"/></clipPath>
<g clip-path="url(#cpk)">
<rect x="231.65" y="530.4" width="10.1" height="21.94" fill="#a9dc72"/>
<rect x="255.05" y="530.4" width="10.1" height="25.56" fill="#a9dc72"/>
<rect x="278.45" y="530.4" width="10.1" height="15.4" fill="#a9dc72"/>
<rect x="301.85" y="530.4" width="10.1" height="45.51" fill="#a9dc72"/>
<rect x="325.25" y="530.4" width="10.1" height="29.88" fill="#a9dc72"/>
<rect x="348.65" y="530.4" width="10.1" height="11.67" fill="#a9dc72"/>
<rect x="229.6" y="521.23" width="14.2" height="9.17" fill="none" stroke="#8ccf58" stroke-width="1.4"/>
<rect x="253" y="530.4" width="14.2" height="27.54" fill="none" stroke="#8ccf58" stroke-width="1.4"/>
<rect x="276.4" y="530.4" width="14.2" height="8.83" fill="none" stroke="#8ccf58" stroke-width="1.4"/>
<rect x="299.8" y="530.4" width="14.2" height="38.63" fill="none" stroke="#8ccf58" stroke-width="1.4"/>
<rect x="323.2" y="530.4" width="14.2" height="11.21" fill="none" stroke="#8ccf58" stroke-width="1.4"/>
<rect x="346.6" y="480.92" width="14.2" height="49.48" fill="none" stroke="#8ccf58" stroke-width="1.4"/>
<line x1="225.5" y1="530.4" x2="365.5" y2="530.4" stroke="#333333" stroke-width="1.0"/>
<text x="236.7" y="520.08" font-size="5" text-anchor="middle" fill="#50528e" stroke="#50528e" stroke-width="0.06">0.0786</text>
<text x="236.7" y="557.39" font-size="5" text-anchor="middle" fill="#50528e" stroke="#50528e" stroke-width="0.06">-0.188</text>
<text x="260.1" y="562.99" font-size="5" text-anchor="middle" fill="#50528e" stroke="#50528e" stroke-width="0.06">-0.236</text>
<text x="260.1" y="561.01" font-size="5" text-anchor="middle" fill="#50528e" stroke="#50528e" stroke-width="0.06">-0.219</text>
<text x="283.5" y="544.28" font-size="5" text-anchor="middle" fill="#50528e" stroke="#50528e" stroke-width="0.06">-0.0757</text>
<text x="283.5" y="550.85" font-size="5" text-anchor="middle" fill="#50528e" stroke="#50528e" stroke-width="0.06">-0.132</text>
<text x="306.9" y="574.08" font-size="5" text-anchor="middle" fill="#50528e" stroke="#50528e" stroke-width="0.06">-0.331</text>
<text x="306.9" y="580.96" font-size="5" text-anchor="middle" fill="#50528e" stroke="#50528e" stroke-width="0.06">-0.396</text>
<text x="330.3" y="546.66" font-size="5" text-anchor="middle" fill="#50528e" stroke="#50528e" stroke-width="0.06">-0.0961</text>
<text x="330.3" y="565.33" font-size="5" text-anchor="middle" fill="#50528e" stroke="#50528e" stroke-width="0.06">-0.251</text>
<text x="353.7" y="479.77" font-size="5" text-anchor="middle" fill="#50528e" stroke="#50528e" stroke-width="0.06">0.424</text>
<text x="353.7" y="547.12" font-size="5" text-anchor="middle" fill="#50528e" stroke="#50528e" stroke-width="0.06">-0.0915</text>
</g>
<rect x="227.2" y="474.8" width="13.1" height="6.1" fill="#a9dc72"/>
<rect x="227.9" y="482.4" width="12.2" height="6.2" fill="none" stroke="#8ccf58" stroke-width="1.4"/>
<text x="242.2" y="480.28" font-size="6.3" text-anchor="start" fill="#2a2a2a" stroke="#2a2a2a" stroke-width="0.08">population</text>
<text x="242.2" y="487.88" font-size="6.3" text-anchor="start" fill="#2a2a2a" stroke="#2a2a2a" stroke-width="0.08">area</text>
<rect x="225.5" y="472.5" width="140" height="116" fill="none" stroke="#484848" stroke-width="1.0"/>
<line x1="225.5" y1="577.08" x2="227.7" y2="577.08" stroke="#333333" stroke-width="0.9"/>
<text x="223.3" y="579.52" font-size="7.4" text-anchor="end" fill="#222" stroke="#222" stroke-width="0.09">-0.4</text>
<line x1="225.5" y1="553.74" x2="227.7" y2="553.74" stroke="#333333" stroke-width="0.9"/>
<text x="223.3" y="556.18" font-size="7.4" text-anchor="end" fill="#222" stroke="#222" stroke-width="0.09">-0.2</text>
<line x1="225.5" y1="530.4" x2="227.7" y2="530.4" stroke="#333333" stroke-width="0.9"/>
<text x="223.3" y="532.84" font-size="7.4" text-anchor="end" fill="#222" stroke="#222" stroke-width="0.09">0.0</text>
<line x1="225.5" y1="507.06" x2="227.7" y2="507.06" stroke="#333333" stroke-width="0.9"/>
<text x="223.3" y="509.5" font-size="7.4" text-anchor="end" fill="#222" stroke="#222" stroke-width="0.09">0.2</text>
<line x1="225.5" y1="483.72" x2="227.7" y2="483.72" stroke="#333333" stroke-width="0.9"/>
<text x="223.3" y="486.16" font-size="7.4" text-anchor="end" fill="#222" stroke="#222" stroke-width="0.09">0.4</text>
<line x1="225.5" y1="565.41" x2="226.8" y2="565.41" stroke="#333333" stroke-width="0.8"/>
<line x1="225.5" y1="542.07" x2="226.8" y2="542.07" stroke="#333333" stroke-width="0.8"/>
<line x1="225.5" y1="518.73" x2="226.8" y2="518.73" stroke="#333333" stroke-width="0.8"/>
<line x1="225.5" y1="495.39" x2="226.8" y2="495.39" stroke="#333333" stroke-width="0.8"/>
<line x1="236.7" y1="588.5" x2="236.7" y2="586.3" stroke="#333333" stroke-width="0.9"/>
<text x="236.7" y="596.74" font-size="7.4" text-anchor="middle" fill="#222" stroke="#222" stroke-width="0.09">E</text>
<line x1="260.1" y1="588.5" x2="260.1" y2="586.3" stroke="#333333" stroke-width="0.9"/>
<text x="260.1" y="596.74" font-size="7.4" text-anchor="middle" fill="#222" stroke="#222" stroke-width="0.09">N</text>
<line x1="283.5" y1="588.5" x2="283.5" y2="586.3" stroke="#333333" stroke-width="0.9"/>
<text x="283.5" y="596.74" font-size="7.4" text-anchor="middle" fill="#222" stroke="#222" stroke-width="0.09">NE</text>
<line x1="306.9" y1="588.5" x2="306.9" y2="586.3" stroke="#333333" stroke-width="0.9"/>
<text x="306.9" y="596.74" font-size="7.4" text-anchor="middle" fill="#222" stroke="#222" stroke-width="0.09">NW</text>
<line x1="330.3" y1="588.5" x2="330.3" y2="586.3" stroke="#333333" stroke-width="0.9"/>
<text x="330.3" y="596.74" font-size="7.4" text-anchor="middle" fill="#222" stroke="#222" stroke-width="0.09">CS</text>
<line x1="353.7" y1="588.5" x2="353.7" y2="586.3" stroke="#333333" stroke-width="0.9"/>
<text x="353.7" y="596.74" font-size="7.4" text-anchor="middle" fill="#222" stroke="#222" stroke-width="0.09">SW</text>
<line x1="248.4" y1="588.5" x2="248.4" y2="587.2" stroke="#333333" stroke-width="0.8"/>
<line x1="271.8" y1="588.5" x2="271.8" y2="587.2" stroke="#333333" stroke-width="0.8"/>
<line x1="295.2" y1="588.5" x2="295.2" y2="587.2" stroke="#333333" stroke-width="0.8"/>
<line x1="318.6" y1="588.5" x2="318.6" y2="587.2" stroke="#333333" stroke-width="0.8"/>
<line x1="342" y1="588.5" x2="342" y2="587.2" stroke="#333333" stroke-width="0.8"/>
<line x1="365.4" y1="588.5" x2="365.4" y2="587.2" stroke="#333333" stroke-width="0.8"/>
<text x="295.3" y="606.66" font-size="7.9" text-anchor="middle" fill="#222" stroke="#222" stroke-width="0.1">Region</text>
<text x="207.5" y="533.61" font-size="7.9" text-anchor="middle" fill="#222" stroke="#222" stroke-width="0.1" transform="rotate(-90 207.5 531)">slope / % per year</text>
<text x="357.3" y="582.15" font-size="13.0" text-anchor="middle" fill="#1a1a1a">(k)</text>
<clipPath id="cpl"><rect x="400.5" y="472.5" width="140" height="116"/></clipPath>
<g clip-path="url(#cpl)">
<rect x="408.4" y="496.3" width="11.4" height="63.76" fill="#a9dc72"/>
<rect x="436.5" y="496.3" width="11.4" height="61.91" fill="#a9dc72"/>
<rect x="464.6" y="496.3" width="11.4" height="56.98" fill="#a9dc72"/>
<rect x="492.7" y="496.3" width="11.4" height="63.76" fill="#a9dc72"/>
<rect x="520.8" y="496.3" width="11.4" height="82.54" fill="#a9dc72"/>
<rect x="406.1" y="496.3" width="16" height="34.19" fill="none" stroke="#8ccf58" stroke-width="1.4"/>
<rect x="434.2" y="496.3" width="16" height="17.22" fill="none" stroke="#8ccf58" stroke-width="1.4"/>
<rect x="462.3" y="483.24" width="16" height="13.06" fill="none" stroke="#8ccf58" stroke-width="1.4"/>
<rect x="490.4" y="496.3" width="16" height="2.2" fill="none" stroke="#8ccf58" stroke-width="1.4"/>
<rect x="518.5" y="496.3" width="16" height="16.14" fill="none" stroke="#8ccf58" stroke-width="1.4"/>
<line x1="400.5" y1="496.3" x2="540.5" y2="496.3" stroke="#333333" stroke-width="1.0"/>
<text x="414.1" y="535.54" font-size="5" text-anchor="middle" fill="#50528e" stroke="#50528e" stroke-width="0.06">-0.111</text>
<text x="414.1" y="565.11" font-size="5" text-anchor="middle" fill="#50528e" stroke="#50528e" stroke-width="0.06">-0.207</text>
<text x="442.2" y="518.57" font-size="5" text-anchor="middle" fill="#50528e" stroke="#50528e" stroke-width="0.06">-0.0559</text>
<text x="442.2" y="563.26" font-size="5" text-anchor="middle" fill="#50528e" stroke="#50528e" stroke-width="0.06">-0.201</text>
<text x="470.3" y="482.09" font-size="5" text-anchor="middle" fill="#50528e" stroke="#50528e" stroke-width="0.06">0.0424</text>
<text x="470.3" y="558.33" font-size="5" text-anchor="middle" fill="#50528e" stroke="#50528e" stroke-width="0.06">-0.185</text>
<text x="498.4" y="503.55" font-size="5" text-anchor="middle" fill="#50528e" stroke="#50528e" stroke-width="0.06">-0.00714</text>
<text x="498.4" y="565.11" font-size="5" text-anchor="middle" fill="#50528e" stroke="#50528e" stroke-width="0.06">-0.207</text>
<text x="526.5" y="517.49" font-size="5" text-anchor="middle" fill="#50528e" stroke="#50528e" stroke-width="0.06">-0.0524</text>
<text x="526.5" y="583.89" font-size="5" text-anchor="middle" fill="#50528e" stroke="#50528e" stroke-width="0.06">-0.268</text>
</g>
<rect x="403.7" y="473.5" width="13.1" height="6.1" fill="#a9dc72"/>
<rect x="404.4" y="481.1" width="12.2" height="6.2" fill="none" stroke="#8ccf58" stroke-width="1.4"/>
<text x="418.7" y="478.98" font-size="6.3" text-anchor="start" fill="#2a2a2a" stroke="#2a2a2a" stroke-width="0.08">population</text>
<text x="418.7" y="486.58" font-size="6.3" text-anchor="start" fill="#2a2a2a" stroke="#2a2a2a" stroke-width="0.08">area</text>
<rect x="400.5" y="472.5" width="140" height="116" fill="none" stroke="#484848" stroke-width="1.0"/>
<line x1="400.5" y1="588.7" x2="402.7" y2="588.7" stroke="#333333" stroke-width="0.9"/>
<text x="398.3" y="591.14" font-size="7.4" text-anchor="end" fill="#222" stroke="#222" stroke-width="0.09">-0.30</text>
<line x1="400.5" y1="573.3" x2="402.7" y2="573.3" stroke="#333333" stroke-width="0.9"/>
<text x="398.3" y="575.74" font-size="7.4" text-anchor="end" fill="#222" stroke="#222" stroke-width="0.09">-0.25</text>
<line x1="400.5" y1="557.9" x2="402.7" y2="557.9" stroke="#333333" stroke-width="0.9"/>
<text x="398.3" y="560.34" font-size="7.4" text-anchor="end" fill="#222" stroke="#222" stroke-width="0.09">-0.20</text>
<line x1="400.5" y1="542.5" x2="402.7" y2="542.5" stroke="#333333" stroke-width="0.9"/>
<text x="398.3" y="544.94" font-size="7.4" text-anchor="end" fill="#222" stroke="#222" stroke-width="0.09">-0.15</text>
<line x1="400.5" y1="527.1" x2="402.7" y2="527.1" stroke="#333333" stroke-width="0.9"/>
<text x="398.3" y="529.54" font-size="7.4" text-anchor="end" fill="#222" stroke="#222" stroke-width="0.09">-0.10</text>
<line x1="400.5" y1="511.7" x2="402.7" y2="511.7" stroke="#333333" stroke-width="0.9"/>
<text x="398.3" y="514.14" font-size="7.4" text-anchor="end" fill="#222" stroke="#222" stroke-width="0.09">-0.05</text>
<line x1="400.5" y1="496.3" x2="402.7" y2="496.3" stroke="#333333" stroke-width="0.9"/>
<text x="398.3" y="498.74" font-size="7.4" text-anchor="end" fill="#222" stroke="#222" stroke-width="0.09">0.00</text>
<line x1="400.5" y1="480.9" x2="402.7" y2="480.9" stroke="#333333" stroke-width="0.9"/>
<text x="398.3" y="483.34" font-size="7.4" text-anchor="end" fill="#222" stroke="#222" stroke-width="0.09">0.05</text>
<line x1="400.5" y1="581" x2="401.8" y2="581" stroke="#333333" stroke-width="0.8"/>
<line x1="400.5" y1="565.6" x2="401.8" y2="565.6" stroke="#333333" stroke-width="0.8"/>
<line x1="400.5" y1="550.2" x2="401.8" y2="550.2" stroke="#333333" stroke-width="0.8"/>
<line x1="400.5" y1="534.8" x2="401.8" y2="534.8" stroke="#333333" stroke-width="0.8"/>
<line x1="400.5" y1="519.4" x2="401.8" y2="519.4" stroke="#333333" stroke-width="0.8"/>
<line x1="400.5" y1="504" x2="401.8" y2="504" stroke="#333333" stroke-width="0.8"/>
<line x1="400.5" y1="488.6" x2="401.8" y2="488.6" stroke="#333333" stroke-width="0.8"/>
<line x1="400.5" y1="473.2" x2="401.8" y2="473.2" stroke="#333333" stroke-width="0.8"/>
<line x1="414.1" y1="588.5" x2="414.1" y2="586.3" stroke="#333333" stroke-width="0.9"/>
<text x="414.1" y="596.74" font-size="7.4" text-anchor="middle" fill="#222" stroke="#222" stroke-width="0.09">I</text>
<line x1="442.2" y1="588.5" x2="442.2" y2="586.3" stroke="#333333" stroke-width="0.9"/>
<text x="442.2" y="596.74" font-size="7.4" text-anchor="middle" fill="#222" stroke="#222" stroke-width="0.09">II</text>
<line x1="470.3" y1="588.5" x2="470.3" y2="586.3" stroke="#333333" stroke-width="0.9"/>
<text x="470.3" y="596.74" font-size="7.4" text-anchor="middle" fill="#222" stroke="#222" stroke-width="0.09">III</text>
<line x1="498.4" y1="588.5" x2="498.4" y2="586.3" stroke="#333333" stroke-width="0.9"/>
<text x="498.4" y="596.74" font-size="7.4" text-anchor="middle" fill="#222" stroke="#222" stroke-width="0.09">IV</text>
<line x1="526.5" y1="588.5" x2="526.5" y2="586.3" stroke="#333333" stroke-width="0.9"/>
<text x="526.5" y="596.74" font-size="7.4" text-anchor="middle" fill="#222" stroke="#222" stroke-width="0.09">V</text>
<line x1="428.15" y1="588.5" x2="428.15" y2="587.2" stroke="#333333" stroke-width="0.8"/>
<line x1="456.25" y1="588.5" x2="456.25" y2="587.2" stroke="#333333" stroke-width="0.8"/>
<line x1="484.35" y1="588.5" x2="484.35" y2="587.2" stroke="#333333" stroke-width="0.8"/>
<line x1="512.45" y1="588.5" x2="512.45" y2="587.2" stroke="#333333" stroke-width="0.8"/>
<text x="470.3" y="606.66" font-size="7.9" text-anchor="middle" fill="#222" stroke="#222" stroke-width="0.1">City level</text>
<text x="377.6" y="533.61" font-size="7.9" text-anchor="middle" fill="#222" stroke="#222" stroke-width="0.1" transform="rotate(-90 377.6 531)">slope / % per year</text>
<text x="532.3" y="582.15" font-size="13.0" text-anchor="middle" fill="#1a1a1a">(l)</text>
<clipPath id="cpn"><rect x="225.5" y="624.5" width="140" height="117"/></clipPath>
<g clip-path="url(#cpn)">
<rect x="231.65" y="624.3" width="10.1" height="43.89" fill="#a9e3a2"/>
<rect x="255.05" y="624.3" width="10.1" height="20.9" fill="#a9e3a2"/>
<rect x="278.45" y="624.3" width="10.1" height="25.08" fill="#a9e3a2"/>
<rect x="301.85" y="624.3" width="10.1" height="23.66" fill="#a9e3a2"/>
<rect x="325.25" y="624.3" width="10.1" height="29.39" fill="#a9e3a2"/>
<rect x="348.65" y="624.3" width="10.1" height="58.94" fill="#a9e3a2"/>
<rect x="229.6" y="624.3" width="14.2" height="85.27" fill="none" stroke="#3aa63a" stroke-width="1.4"/>
<rect x="253" y="624.3" width="14.2" height="37.54" fill="none" stroke="#3aa63a" stroke-width="1.4"/>
<rect x="276.4" y="624.3" width="14.2" height="48.07" fill="none" stroke="#3aa63a" stroke-width="1.4"/>
<rect x="299.8" y="624.3" width="14.2" height="49.74" fill="none" stroke="#3aa63a" stroke-width="1.4"/>
<rect x="323.2" y="624.3" width="14.2" height="62.28" fill="none" stroke="#3aa63a" stroke-width="1.4"/>
<rect x="346.6" y="624.3" width="14.2" height="105.75" fill="none" stroke="#3aa63a" stroke-width="1.4"/>
<text x="236.7" y="714.62" font-size="5" text-anchor="middle" fill="#b09352" stroke="#b09352" stroke-width="0.06">-2.04</text>
<text x="236.7" y="673.24" font-size="5" text-anchor="middle" fill="#b09352" stroke="#b09352" stroke-width="0.06">-1.05</text>
<text x="260.1" y="666.89" font-size="5" text-anchor="middle" fill="#b09352" stroke="#b09352" stroke-width="0.06">-0.898</text>
<text x="260.1" y="650.25" font-size="5" text-anchor="middle" fill="#b09352" stroke="#b09352" stroke-width="0.06">-0.5</text>
<text x="283.5" y="677.42" font-size="5" text-anchor="middle" fill="#b09352" stroke="#b09352" stroke-width="0.06">-1.15</text>
<text x="283.5" y="654.43" font-size="5" text-anchor="middle" fill="#b09352" stroke="#b09352" stroke-width="0.06">-0.587</text>
<text x="306.9" y="679.09" font-size="5" text-anchor="middle" fill="#b09352" stroke="#b09352" stroke-width="0.06">-1.19</text>
<text x="306.9" y="653.01" font-size="5" text-anchor="middle" fill="#b09352" stroke="#b09352" stroke-width="0.06">-0.574</text>
<text x="330.3" y="691.63" font-size="5" text-anchor="middle" fill="#b09352" stroke="#b09352" stroke-width="0.06">-1.49</text>
<text x="330.3" y="658.74" font-size="5" text-anchor="middle" fill="#b09352" stroke="#b09352" stroke-width="0.06">-0.704</text>
<text x="353.7" y="735.1" font-size="5" text-anchor="middle" fill="#b09352" stroke="#b09352" stroke-width="0.06">-2.58</text>
<text x="353.7" y="688.29" font-size="5" text-anchor="middle" fill="#b09352" stroke="#b09352" stroke-width="0.06">-1.41</text>
</g>
<rect x="227" y="724.2" width="13.1" height="6.1" fill="#a9e3a2"/>
<rect x="227.7" y="731.8" width="12.2" height="6.2" fill="none" stroke="#3aa63a" stroke-width="1.4"/>
<text x="242" y="729.68" font-size="6.3" text-anchor="start" fill="#2a2a2a" stroke="#2a2a2a" stroke-width="0.08">population</text>
<text x="242" y="737.28" font-size="6.3" text-anchor="start" fill="#2a2a2a" stroke="#2a2a2a" stroke-width="0.08">area</text>
<rect x="225.5" y="624.5" width="140" height="117" fill="none" stroke="#484848" stroke-width="1.0"/>
<line x1="225.5" y1="728.8" x2="227.7" y2="728.8" stroke="#333333" stroke-width="0.9"/>
<text x="223.3" y="731.24" font-size="7.4" text-anchor="end" fill="#222" stroke="#222" stroke-width="0.09">-2.5</text>
<line x1="225.5" y1="707.9" x2="227.7" y2="707.9" stroke="#333333" stroke-width="0.9"/>
<text x="223.3" y="710.34" font-size="7.4" text-anchor="end" fill="#222" stroke="#222" stroke-width="0.09">-2.0</text>
<line x1="225.5" y1="687" x2="227.7" y2="687" stroke="#333333" stroke-width="0.9"/>
<text x="223.3" y="689.44" font-size="7.4" text-anchor="end" fill="#222" stroke="#222" stroke-width="0.09">-1.5</text>
<line x1="225.5" y1="666.1" x2="227.7" y2="666.1" stroke="#333333" stroke-width="0.9"/>
<text x="223.3" y="668.54" font-size="7.4" text-anchor="end" fill="#222" stroke="#222" stroke-width="0.09">-1.0</text>
<line x1="225.5" y1="645.2" x2="227.7" y2="645.2" stroke="#333333" stroke-width="0.9"/>
<text x="223.3" y="647.64" font-size="7.4" text-anchor="end" fill="#222" stroke="#222" stroke-width="0.09">-0.5</text>
<line x1="225.5" y1="624.3" x2="227.7" y2="624.3" stroke="#333333" stroke-width="0.9"/>
<text x="223.3" y="626.74" font-size="7.4" text-anchor="end" fill="#222" stroke="#222" stroke-width="0.09">0.0</text>
<line x1="225.5" y1="739.25" x2="226.8" y2="739.25" stroke="#333333" stroke-width="0.8"/>
<line x1="225.5" y1="718.35" x2="226.8" y2="718.35" stroke="#333333" stroke-width="0.8"/>
<line x1="225.5" y1="697.45" x2="226.8" y2="697.45" stroke="#333333" stroke-width="0.8"/>
<line x1="225.5" y1="676.55" x2="226.8" y2="676.55" stroke="#333333" stroke-width="0.8"/>
<line x1="225.5" y1="655.65" x2="226.8" y2="655.65" stroke="#333333" stroke-width="0.8"/>
<line x1="225.5" y1="634.75" x2="226.8" y2="634.75" stroke="#333333" stroke-width="0.8"/>
<line x1="236.7" y1="741.5" x2="236.7" y2="739.3" stroke="#333333" stroke-width="0.9"/>
<text x="236.7" y="749.74" font-size="7.4" text-anchor="middle" fill="#222" stroke="#222" stroke-width="0.09">E</text>
<line x1="260.1" y1="741.5" x2="260.1" y2="739.3" stroke="#333333" stroke-width="0.9"/>
<text x="260.1" y="749.74" font-size="7.4" text-anchor="middle" fill="#222" stroke="#222" stroke-width="0.09">N</text>
<line x1="283.5" y1="741.5" x2="283.5" y2="739.3" stroke="#333333" stroke-width="0.9"/>
<text x="283.5" y="749.74" font-size="7.4" text-anchor="middle" fill="#222" stroke="#222" stroke-width="0.09">NE</text>
<line x1="306.9" y1="741.5" x2="306.9" y2="739.3" stroke="#333333" stroke-width="0.9"/>
<text x="306.9" y="749.74" font-size="7.4" text-anchor="middle" fill="#222" stroke="#222" stroke-width="0.09">NW</text>
<line x1="330.3" y1="741.5" x2="330.3" y2="739.3" stroke="#333333" stroke-width="0.9"/>
<text x="330.3" y="749.74" font-size="7.4" text-anchor="middle" fill="#222" stroke="#222" stroke-width="0.09">CS</text>
<line x1="353.7" y1="741.5" x2="353.7" y2="739.3" stroke="#333333" stroke-width="0.9"/>
<text x="353.7" y="749.74" font-size="7.4" text-anchor="middle" fill="#222" stroke="#222" stroke-width="0.09">SW</text>
<line x1="248.4" y1="741.5" x2="248.4" y2="740.2" stroke="#333333" stroke-width="0.8"/>
<line x1="271.8" y1="741.5" x2="271.8" y2="740.2" stroke="#333333" stroke-width="0.8"/>
<line x1="295.2" y1="741.5" x2="295.2" y2="740.2" stroke="#333333" stroke-width="0.8"/>
<line x1="318.6" y1="741.5" x2="318.6" y2="740.2" stroke="#333333" stroke-width="0.8"/>
<line x1="342" y1="741.5" x2="342" y2="740.2" stroke="#333333" stroke-width="0.8"/>
<line x1="365.4" y1="741.5" x2="365.4" y2="740.2" stroke="#333333" stroke-width="0.8"/>
<text x="295.3" y="759.66" font-size="7.9" text-anchor="middle" fill="#222" stroke="#222" stroke-width="0.1">Region</text>
<text x="207.5" y="686.11" font-size="7.9" text-anchor="middle" fill="#222" stroke="#222" stroke-width="0.1" transform="rotate(-90 207.5 683.5)">slope / % per year</text>
<text x="357.3" y="735.15" font-size="13.0" text-anchor="middle" fill="#1a1a1a">(n)</text>
<clipPath id="cpo"><rect x="399.5" y="624.5" width="141" height="117"/></clipPath>
<g clip-path="url(#cpo)">
<rect x="407.6" y="624.3" width="11.4" height="25.34" fill="#a9e3a2"/>
<rect x="435.7" y="624.3" width="11.4" height="44.19" fill="#a9e3a2"/>
<rect x="463.8" y="624.3" width="11.4" height="58.9" fill="#a9e3a2"/>
<rect x="491.9" y="624.3" width="11.4" height="55.13" fill="#a9e3a2"/>
<rect x="520" y="624.3" width="11.4" height="45.3" fill="#a9e3a2"/>
<rect x="405.3" y="624.3" width="16" height="77.87" fill="none" stroke="#3aa63a" stroke-width="1.4"/>
<rect x="433.4" y="624.3" width="16" height="91.46" fill="none" stroke="#3aa63a" stroke-width="1.4"/>
<rect x="461.5" y="624.3" width="16" height="106.61" fill="none" stroke="#3aa63a" stroke-width="1.4"/>
<rect x="489.6" y="624.3" width="16" height="104.44" fill="none" stroke="#3aa63a" stroke-width="1.4"/>
<rect x="517.7" y="624.3" width="16" height="97.64" fill="none" stroke="#3aa63a" stroke-width="1.4"/>
<text x="413.3" y="707.22" font-size="5" text-anchor="middle" fill="#b09352" stroke="#b09352" stroke-width="0.06">-1.27</text>
<text x="413.3" y="654.69" font-size="5" text-anchor="middle" fill="#b09352" stroke="#b09352" stroke-width="0.06">-0.415</text>
<text x="441.4" y="720.81" font-size="5" text-anchor="middle" fill="#b09352" stroke="#b09352" stroke-width="0.06">-1.48</text>
<text x="441.4" y="673.54" font-size="5" text-anchor="middle" fill="#b09352" stroke="#b09352" stroke-width="0.06">-0.727</text>
<text x="469.5" y="735.95" font-size="5" text-anchor="middle" fill="#b09352" stroke="#b09352" stroke-width="0.06">-1.74</text>
<text x="469.5" y="688.25" font-size="5" text-anchor="middle" fill="#b09352" stroke="#b09352" stroke-width="0.06">-0.966</text>
<text x="497.6" y="733.79" font-size="5" text-anchor="middle" fill="#b09352" stroke="#b09352" stroke-width="0.06">-1.7</text>
<text x="497.6" y="684.48" font-size="5" text-anchor="middle" fill="#b09352" stroke="#b09352" stroke-width="0.06">-0.844</text>
<text x="525.7" y="726.99" font-size="5" text-anchor="middle" fill="#b09352" stroke="#b09352" stroke-width="0.06">-1.58</text>
<text x="525.7" y="674.65" font-size="5" text-anchor="middle" fill="#b09352" stroke="#b09352" stroke-width="0.06">-0.736</text>
</g>
<rect x="402.7" y="723.9" width="13.1" height="6.1" fill="#a9e3a2"/>
<rect x="403.4" y="731.5" width="12.2" height="6.2" fill="none" stroke="#3aa63a" stroke-width="1.4"/>
<text x="417.7" y="729.38" font-size="6.3" text-anchor="start" fill="#2a2a2a" stroke="#2a2a2a" stroke-width="0.08">population</text>
<text x="417.7" y="736.98" font-size="6.3" text-anchor="start" fill="#2a2a2a" stroke="#2a2a2a" stroke-width="0.08">area</text>
<rect x="399.5" y="624.5" width="141" height="117" fill="none" stroke="#484848" stroke-width="1.0"/>
<line x1="399.5" y1="723.18" x2="401.7" y2="723.18" stroke="#333333" stroke-width="0.9"/>
<text x="397.3" y="725.62" font-size="7.4" text-anchor="end" fill="#222" stroke="#222" stroke-width="0.09">-1.6</text>
<line x1="399.5" y1="698.46" x2="401.7" y2="698.46" stroke="#333333" stroke-width="0.9"/>
<text x="397.3" y="700.9" font-size="7.4" text-anchor="end" fill="#222" stroke="#222" stroke-width="0.09">-1.2</text>
<line x1="399.5" y1="673.74" x2="401.7" y2="673.74" stroke="#333333" stroke-width="0.9"/>
<text x="397.3" y="676.18" font-size="7.4" text-anchor="end" fill="#222" stroke="#222" stroke-width="0.09">-0.8</text>
<line x1="399.5" y1="649.02" x2="401.7" y2="649.02" stroke="#333333" stroke-width="0.9"/>
<text x="397.3" y="651.46" font-size="7.4" text-anchor="end" fill="#222" stroke="#222" stroke-width="0.09">-0.4</text>
<line x1="399.5" y1="624.3" x2="401.7" y2="624.3" stroke="#333333" stroke-width="0.9"/>
<text x="397.3" y="626.74" font-size="7.4" text-anchor="end" fill="#222" stroke="#222" stroke-width="0.09">0.0</text>
<line x1="399.5" y1="735.54" x2="400.8" y2="735.54" stroke="#333333" stroke-width="0.8"/>
<line x1="399.5" y1="710.82" x2="400.8" y2="710.82" stroke="#333333" stroke-width="0.8"/>
<line x1="399.5" y1="686.1" x2="400.8" y2="686.1" stroke="#333333" stroke-width="0.8"/>
<line x1="399.5" y1="661.38" x2="400.8" y2="661.38" stroke="#333333" stroke-width="0.8"/>
<line x1="399.5" y1="636.66" x2="400.8" y2="636.66" stroke="#333333" stroke-width="0.8"/>
<line x1="413.3" y1="741.5" x2="413.3" y2="739.3" stroke="#333333" stroke-width="0.9"/>
<text x="413.3" y="749.74" font-size="7.4" text-anchor="middle" fill="#222" stroke="#222" stroke-width="0.09">I</text>
<line x1="441.4" y1="741.5" x2="441.4" y2="739.3" stroke="#333333" stroke-width="0.9"/>
<text x="441.4" y="749.74" font-size="7.4" text-anchor="middle" fill="#222" stroke="#222" stroke-width="0.09">II</text>
<line x1="469.5" y1="741.5" x2="469.5" y2="739.3" stroke="#333333" stroke-width="0.9"/>
<text x="469.5" y="749.74" font-size="7.4" text-anchor="middle" fill="#222" stroke="#222" stroke-width="0.09">III</text>
<line x1="497.6" y1="741.5" x2="497.6" y2="739.3" stroke="#333333" stroke-width="0.9"/>
<text x="497.6" y="749.74" font-size="7.4" text-anchor="middle" fill="#222" stroke="#222" stroke-width="0.09">IV</text>
<line x1="525.7" y1="741.5" x2="525.7" y2="739.3" stroke="#333333" stroke-width="0.9"/>
<text x="525.7" y="749.74" font-size="7.4" text-anchor="middle" fill="#222" stroke="#222" stroke-width="0.09">V</text>
<line x1="427.35" y1="741.5" x2="427.35" y2="740.2" stroke="#333333" stroke-width="0.8"/>
<line x1="455.45" y1="741.5" x2="455.45" y2="740.2" stroke="#333333" stroke-width="0.8"/>
<line x1="483.55" y1="741.5" x2="483.55" y2="740.2" stroke="#333333" stroke-width="0.8"/>
<line x1="511.65" y1="741.5" x2="511.65" y2="740.2" stroke="#333333" stroke-width="0.8"/>
<line x1="539.75" y1="741.5" x2="539.75" y2="740.2" stroke="#333333" stroke-width="0.8"/>
<text x="469.5" y="759.66" font-size="7.9" text-anchor="middle" fill="#222" stroke="#222" stroke-width="0.1">City level</text>
<text x="379" y="686.11" font-size="7.9" text-anchor="middle" fill="#222" stroke="#222" stroke-width="0.1" transform="rotate(-90 379 683.5)">slope / % per year</text>
<text x="532.3" y="735.15" font-size="13.0" text-anchor="middle" fill="#1a1a1a">(o)</text>
</svg>
</body></html>
